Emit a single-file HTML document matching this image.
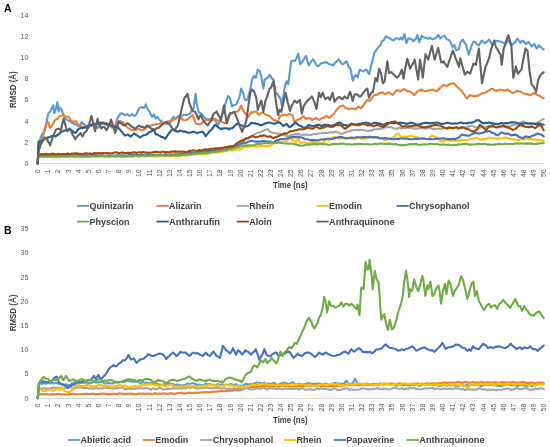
<!DOCTYPE html>
<html><head><meta charset="utf-8"><title>RMSD plots</title>
<style>html,body{margin:0;padding:0;background:#fff;}svg{display:block;}</style>
</head><body>
<svg width="550" height="447" viewBox="0 0 550 447">
<rect width="550" height="447" fill="#ffffff"/>
<g font-family="'Liberation Sans', Arial, sans-serif">
<line x1="37.7" y1="163.6" x2="544.2" y2="163.6" stroke="#D9D9D9" stroke-width="1"/>
<text x="28.4" y="165.9" text-anchor="end" font-size="7" fill="#595959">0</text>
<text x="28.4" y="144.7" text-anchor="end" font-size="7" fill="#595959">2</text>
<text x="28.4" y="123.6" text-anchor="end" font-size="7" fill="#595959">4</text>
<text x="28.4" y="102.4" text-anchor="end" font-size="7" fill="#595959">6</text>
<text x="28.4" y="81.3" text-anchor="end" font-size="7" fill="#595959">8</text>
<text x="28.4" y="60.1" text-anchor="end" font-size="7" fill="#595959">10</text>
<text x="28.4" y="38.9" text-anchor="end" font-size="7" fill="#595959">12</text>
<text x="28.4" y="17.8" text-anchor="end" font-size="7" fill="#595959">14</text>
<text transform="translate(40.2,169.3) rotate(-90)" text-anchor="end" font-size="7" fill="#595959">0</text>
<text transform="translate(50.3,169.3) rotate(-90)" text-anchor="end" font-size="7" fill="#595959">1</text>
<text transform="translate(60.4,169.3) rotate(-90)" text-anchor="end" font-size="7" fill="#595959">2</text>
<text transform="translate(70.6,169.3) rotate(-90)" text-anchor="end" font-size="7" fill="#595959">3</text>
<text transform="translate(80.7,169.3) rotate(-90)" text-anchor="end" font-size="7" fill="#595959">4</text>
<text transform="translate(90.8,169.3) rotate(-90)" text-anchor="end" font-size="7" fill="#595959">5</text>
<text transform="translate(100.9,169.3) rotate(-90)" text-anchor="end" font-size="7" fill="#595959">6</text>
<text transform="translate(111.0,169.3) rotate(-90)" text-anchor="end" font-size="7" fill="#595959">7</text>
<text transform="translate(121.2,169.3) rotate(-90)" text-anchor="end" font-size="7" fill="#595959">8</text>
<text transform="translate(131.3,169.3) rotate(-90)" text-anchor="end" font-size="7" fill="#595959">9</text>
<text transform="translate(141.4,169.3) rotate(-90)" text-anchor="end" font-size="7" fill="#595959">10</text>
<text transform="translate(151.5,169.3) rotate(-90)" text-anchor="end" font-size="7" fill="#595959">11</text>
<text transform="translate(161.6,169.3) rotate(-90)" text-anchor="end" font-size="7" fill="#595959">12</text>
<text transform="translate(171.8,169.3) rotate(-90)" text-anchor="end" font-size="7" fill="#595959">13</text>
<text transform="translate(181.9,169.3) rotate(-90)" text-anchor="end" font-size="7" fill="#595959">14</text>
<text transform="translate(192.0,169.3) rotate(-90)" text-anchor="end" font-size="7" fill="#595959">15</text>
<text transform="translate(202.1,169.3) rotate(-90)" text-anchor="end" font-size="7" fill="#595959">16</text>
<text transform="translate(212.2,169.3) rotate(-90)" text-anchor="end" font-size="7" fill="#595959">17</text>
<text transform="translate(222.4,169.3) rotate(-90)" text-anchor="end" font-size="7" fill="#595959">18</text>
<text transform="translate(232.5,169.3) rotate(-90)" text-anchor="end" font-size="7" fill="#595959">19</text>
<text transform="translate(242.6,169.3) rotate(-90)" text-anchor="end" font-size="7" fill="#595959">20</text>
<text transform="translate(252.7,169.3) rotate(-90)" text-anchor="end" font-size="7" fill="#595959">21</text>
<text transform="translate(262.8,169.3) rotate(-90)" text-anchor="end" font-size="7" fill="#595959">22</text>
<text transform="translate(273.0,169.3) rotate(-90)" text-anchor="end" font-size="7" fill="#595959">23</text>
<text transform="translate(283.1,169.3) rotate(-90)" text-anchor="end" font-size="7" fill="#595959">24</text>
<text transform="translate(293.2,169.3) rotate(-90)" text-anchor="end" font-size="7" fill="#595959">25</text>
<text transform="translate(303.3,169.3) rotate(-90)" text-anchor="end" font-size="7" fill="#595959">26</text>
<text transform="translate(313.4,169.3) rotate(-90)" text-anchor="end" font-size="7" fill="#595959">27</text>
<text transform="translate(323.6,169.3) rotate(-90)" text-anchor="end" font-size="7" fill="#595959">28</text>
<text transform="translate(333.7,169.3) rotate(-90)" text-anchor="end" font-size="7" fill="#595959">29</text>
<text transform="translate(343.8,169.3) rotate(-90)" text-anchor="end" font-size="7" fill="#595959">30</text>
<text transform="translate(353.9,169.3) rotate(-90)" text-anchor="end" font-size="7" fill="#595959">31</text>
<text transform="translate(364.0,169.3) rotate(-90)" text-anchor="end" font-size="7" fill="#595959">32</text>
<text transform="translate(374.2,169.3) rotate(-90)" text-anchor="end" font-size="7" fill="#595959">33</text>
<text transform="translate(384.3,169.3) rotate(-90)" text-anchor="end" font-size="7" fill="#595959">34</text>
<text transform="translate(394.4,169.3) rotate(-90)" text-anchor="end" font-size="7" fill="#595959">35</text>
<text transform="translate(404.5,169.3) rotate(-90)" text-anchor="end" font-size="7" fill="#595959">36</text>
<text transform="translate(414.6,169.3) rotate(-90)" text-anchor="end" font-size="7" fill="#595959">37</text>
<text transform="translate(424.8,169.3) rotate(-90)" text-anchor="end" font-size="7" fill="#595959">38</text>
<text transform="translate(434.9,169.3) rotate(-90)" text-anchor="end" font-size="7" fill="#595959">39</text>
<text transform="translate(445.0,169.3) rotate(-90)" text-anchor="end" font-size="7" fill="#595959">40</text>
<text transform="translate(455.1,169.3) rotate(-90)" text-anchor="end" font-size="7" fill="#595959">41</text>
<text transform="translate(465.2,169.3) rotate(-90)" text-anchor="end" font-size="7" fill="#595959">42</text>
<text transform="translate(475.4,169.3) rotate(-90)" text-anchor="end" font-size="7" fill="#595959">43</text>
<text transform="translate(485.5,169.3) rotate(-90)" text-anchor="end" font-size="7" fill="#595959">44</text>
<text transform="translate(495.6,169.3) rotate(-90)" text-anchor="end" font-size="7" fill="#595959">45</text>
<text transform="translate(505.7,169.3) rotate(-90)" text-anchor="end" font-size="7" fill="#595959">46</text>
<text transform="translate(515.8,169.3) rotate(-90)" text-anchor="end" font-size="7" fill="#595959">47</text>
<text transform="translate(526.0,169.3) rotate(-90)" text-anchor="end" font-size="7" fill="#595959">48</text>
<text transform="translate(536.1,169.3) rotate(-90)" text-anchor="end" font-size="7" fill="#595959">49</text>
<text transform="translate(546.2,169.3) rotate(-90)" text-anchor="end" font-size="7" fill="#595959">50</text>
<text x="273" y="187.6" font-size="8.6" font-weight="bold" fill="#404040" textLength="34.6" lengthAdjust="spacingAndGlyphs">Time (ns)</text>
<text transform="translate(15.8,107.9) rotate(-90)" font-size="8.6" font-weight="bold" fill="#404040" textLength="36.6" lengthAdjust="spacingAndGlyphs">RMSD (&#197;)</text>
<text x="4.0" y="11.8" font-size="10.6" font-weight="bold" fill="#000">A</text>
<line x1="37.7" y1="398.5" x2="544.2" y2="398.5" stroke="#D9D9D9" stroke-width="1"/>
<text x="28.4" y="400.6" text-anchor="end" font-size="7" fill="#595959">0</text>
<text x="28.4" y="376.4" text-anchor="end" font-size="7" fill="#595959">5</text>
<text x="28.4" y="352.2" text-anchor="end" font-size="7" fill="#595959">10</text>
<text x="28.4" y="328.0" text-anchor="end" font-size="7" fill="#595959">15</text>
<text x="28.4" y="303.8" text-anchor="end" font-size="7" fill="#595959">20</text>
<text x="28.4" y="279.6" text-anchor="end" font-size="7" fill="#595959">25</text>
<text x="28.4" y="255.4" text-anchor="end" font-size="7" fill="#595959">30</text>
<text x="28.4" y="231.2" text-anchor="end" font-size="7" fill="#595959">35</text>
<text transform="translate(40.2,403.6) rotate(-90)" text-anchor="end" font-size="7" fill="#595959">0</text>
<text transform="translate(50.3,403.6) rotate(-90)" text-anchor="end" font-size="7" fill="#595959">1</text>
<text transform="translate(60.4,403.6) rotate(-90)" text-anchor="end" font-size="7" fill="#595959">2</text>
<text transform="translate(70.6,403.6) rotate(-90)" text-anchor="end" font-size="7" fill="#595959">3</text>
<text transform="translate(80.7,403.6) rotate(-90)" text-anchor="end" font-size="7" fill="#595959">4</text>
<text transform="translate(90.8,403.6) rotate(-90)" text-anchor="end" font-size="7" fill="#595959">5</text>
<text transform="translate(100.9,403.6) rotate(-90)" text-anchor="end" font-size="7" fill="#595959">6</text>
<text transform="translate(111.0,403.6) rotate(-90)" text-anchor="end" font-size="7" fill="#595959">7</text>
<text transform="translate(121.2,403.6) rotate(-90)" text-anchor="end" font-size="7" fill="#595959">8</text>
<text transform="translate(131.3,403.6) rotate(-90)" text-anchor="end" font-size="7" fill="#595959">9</text>
<text transform="translate(141.4,403.6) rotate(-90)" text-anchor="end" font-size="7" fill="#595959">10</text>
<text transform="translate(151.5,403.6) rotate(-90)" text-anchor="end" font-size="7" fill="#595959">11</text>
<text transform="translate(161.6,403.6) rotate(-90)" text-anchor="end" font-size="7" fill="#595959">12</text>
<text transform="translate(171.8,403.6) rotate(-90)" text-anchor="end" font-size="7" fill="#595959">13</text>
<text transform="translate(181.9,403.6) rotate(-90)" text-anchor="end" font-size="7" fill="#595959">14</text>
<text transform="translate(192.0,403.6) rotate(-90)" text-anchor="end" font-size="7" fill="#595959">15</text>
<text transform="translate(202.1,403.6) rotate(-90)" text-anchor="end" font-size="7" fill="#595959">16</text>
<text transform="translate(212.2,403.6) rotate(-90)" text-anchor="end" font-size="7" fill="#595959">17</text>
<text transform="translate(222.4,403.6) rotate(-90)" text-anchor="end" font-size="7" fill="#595959">18</text>
<text transform="translate(232.5,403.6) rotate(-90)" text-anchor="end" font-size="7" fill="#595959">19</text>
<text transform="translate(242.6,403.6) rotate(-90)" text-anchor="end" font-size="7" fill="#595959">20</text>
<text transform="translate(252.7,403.6) rotate(-90)" text-anchor="end" font-size="7" fill="#595959">21</text>
<text transform="translate(262.8,403.6) rotate(-90)" text-anchor="end" font-size="7" fill="#595959">22</text>
<text transform="translate(273.0,403.6) rotate(-90)" text-anchor="end" font-size="7" fill="#595959">23</text>
<text transform="translate(283.1,403.6) rotate(-90)" text-anchor="end" font-size="7" fill="#595959">24</text>
<text transform="translate(293.2,403.6) rotate(-90)" text-anchor="end" font-size="7" fill="#595959">25</text>
<text transform="translate(303.3,403.6) rotate(-90)" text-anchor="end" font-size="7" fill="#595959">26</text>
<text transform="translate(313.4,403.6) rotate(-90)" text-anchor="end" font-size="7" fill="#595959">27</text>
<text transform="translate(323.6,403.6) rotate(-90)" text-anchor="end" font-size="7" fill="#595959">28</text>
<text transform="translate(333.7,403.6) rotate(-90)" text-anchor="end" font-size="7" fill="#595959">29</text>
<text transform="translate(343.8,403.6) rotate(-90)" text-anchor="end" font-size="7" fill="#595959">30</text>
<text transform="translate(353.9,403.6) rotate(-90)" text-anchor="end" font-size="7" fill="#595959">31</text>
<text transform="translate(364.0,403.6) rotate(-90)" text-anchor="end" font-size="7" fill="#595959">32</text>
<text transform="translate(374.2,403.6) rotate(-90)" text-anchor="end" font-size="7" fill="#595959">33</text>
<text transform="translate(384.3,403.6) rotate(-90)" text-anchor="end" font-size="7" fill="#595959">34</text>
<text transform="translate(394.4,403.6) rotate(-90)" text-anchor="end" font-size="7" fill="#595959">35</text>
<text transform="translate(404.5,403.6) rotate(-90)" text-anchor="end" font-size="7" fill="#595959">36</text>
<text transform="translate(414.6,403.6) rotate(-90)" text-anchor="end" font-size="7" fill="#595959">37</text>
<text transform="translate(424.8,403.6) rotate(-90)" text-anchor="end" font-size="7" fill="#595959">38</text>
<text transform="translate(434.9,403.6) rotate(-90)" text-anchor="end" font-size="7" fill="#595959">39</text>
<text transform="translate(445.0,403.6) rotate(-90)" text-anchor="end" font-size="7" fill="#595959">40</text>
<text transform="translate(455.1,403.6) rotate(-90)" text-anchor="end" font-size="7" fill="#595959">41</text>
<text transform="translate(465.2,403.6) rotate(-90)" text-anchor="end" font-size="7" fill="#595959">42</text>
<text transform="translate(475.4,403.6) rotate(-90)" text-anchor="end" font-size="7" fill="#595959">43</text>
<text transform="translate(485.5,403.6) rotate(-90)" text-anchor="end" font-size="7" fill="#595959">44</text>
<text transform="translate(495.6,403.6) rotate(-90)" text-anchor="end" font-size="7" fill="#595959">45</text>
<text transform="translate(505.7,403.6) rotate(-90)" text-anchor="end" font-size="7" fill="#595959">46</text>
<text transform="translate(515.8,403.6) rotate(-90)" text-anchor="end" font-size="7" fill="#595959">47</text>
<text transform="translate(526.0,403.6) rotate(-90)" text-anchor="end" font-size="7" fill="#595959">48</text>
<text transform="translate(536.1,403.6) rotate(-90)" text-anchor="end" font-size="7" fill="#595959">49</text>
<text transform="translate(546.2,403.6) rotate(-90)" text-anchor="end" font-size="7" fill="#595959">50</text>
<text x="273" y="422.7" font-size="8.6" font-weight="bold" fill="#404040" textLength="34.6" lengthAdjust="spacingAndGlyphs">Time (ns)</text>
<text transform="translate(15.8,331.3) rotate(-90)" font-size="8.6" font-weight="bold" fill="#404040" textLength="36.6" lengthAdjust="spacingAndGlyphs">RMSD (&#197;)</text>
<text x="4.0" y="233.6" font-size="10.6" font-weight="bold" fill="#000">B</text>
<polyline fill="none" stroke="#5B9BD5" stroke-width="2.10" stroke-linejoin="round" stroke-linecap="round" points="37.7,163.5 38.6,142.4 39.7,139.9 40.4,138.3 41.7,135.1 43.1,133.0 43.8,131.6 45.7,125.8 45.8,125.7 47.8,115.7 48.4,113.3 49.8,111.9 50.2,111.5 51.9,108.0 52.0,107.9 53.3,105.2 53.9,110.2 54.3,113.3 55.9,108.9 56.1,107.9 57.4,102.2 57.9,105.5 58.6,111.5 60.0,107.5 60.1,107.9 61.8,109.7 62.0,110.8 63.6,115.0 64.0,115.7 65.4,118.6 66.0,119.3 68.1,120.4 70.1,121.1 70.8,122.2 72.1,122.8 74.1,124.2 74.4,124.0 76.2,124.5 78.0,125.8 78.2,126.5 79.7,125.8 80.2,125.4 81.5,122.2 82.2,122.3 83.3,124.0 84.3,124.3 86.0,126.7 86.3,126.8 88.3,128.1 88.7,127.6 90.3,125.9 92.3,124.0 94.4,126.4 95.0,127.6 96.4,127.5 98.4,127.6 100.4,125.0 102.5,123.2 103.0,123.1 104.5,123.8 106.5,124.8 108.5,125.8 110.6,126.0 112.6,126.6 114.6,127.1 115.0,127.6 116.6,121.0 117.2,118.6 118.7,116.1 120.7,113.3 122.7,113.5 124.3,115.0 124.7,115.3 126.8,114.4 127.0,114.2 128.8,115.6 129.7,116.0 130.8,114.9 132.4,114.2 132.8,115.2 134.9,116.0 136.9,113.3 137.7,111.5 138.9,108.6 139.5,107.9 140.9,107.2 142.2,107.0 142.9,107.7 144.0,107.9 145.0,106.2 145.8,104.3 147.0,107.9 147.6,108.9 149.0,110.8 149.4,111.5 151.0,115.2 152.1,116.8 153.1,115.5 153.8,114.2 155.1,117.1 155.6,118.6 157.1,117.2 157.4,116.8 159.1,119.5 161.2,121.4 161.9,121.3 163.2,123.1 163.7,123.1 165.2,123.5 167.2,124.0 169.3,123.2 170.9,122.2 171.3,120.8 173.3,116.8 173.5,116.8 175.3,118.6 177.4,117.0 178.0,116.0 179.4,116.8 180.7,117.7 181.4,116.5 183.4,115.0 185.5,115.0 186.2,115.0 187.5,114.7 189.5,113.7 190.0,113.3 191.5,111.1 193.5,108.6 195.6,93.9 196.6,103.4 197.6,107.5 198.6,111.8 199.6,112.5 201.6,113.9 203.7,116.8 205.7,119.0 206.7,120.2 207.7,119.8 209.7,119.4 210.8,119.2 211.8,118.5 213.8,118.6 214.8,119.2 215.8,121.6 217.8,125.5 219.9,121.1 221.9,115.5 222.9,112.9 223.9,109.2 225.9,102.3 228.0,96.0 230.0,98.1 232.0,106.5 234.0,105.0 236.1,104.4 238.1,100.2 239.1,98.1 240.1,94.0 241.1,88.6 242.1,91.1 243.1,92.8 244.1,96.6 245.2,100.2 246.2,100.3 247.7,99.1 248.2,96.9 250.2,89.6 252.2,79.1 254.3,75.9 255.8,78.0 256.3,76.0 257.8,69.6 258.3,70.5 259.8,70.7 260.3,72.9 261.4,77.0 262.4,82.7 263.4,88.6 264.4,81.9 264.9,79.1 266.4,78.5 267.4,78.0 268.4,77.1 269.4,74.9 270.5,75.8 271.5,78.0 272.5,79.0 273.5,79.1 274.5,85.9 275.5,91.8 276.5,93.6 278.1,94.9 278.6,96.1 280.6,99.1 282.1,107.1 282.6,103.1 283.6,93.9 284.6,88.3 285.1,85.4 286.7,81.2 288.2,84.4 288.7,80.6 289.7,72.8 290.7,64.9 291.2,61.2 292.7,60.5 294.7,61.2 296.8,57.5 298.3,53.8 298.8,56.5 300.3,64.3 300.8,63.3 302.8,61.2 304.9,57.7 305.9,55.9 306.9,59.0 308.9,65.4 310.9,62.0 313.0,59.1 315.0,62.4 316.0,64.3 317.0,65.4 318.0,66.4 319.0,65.6 321.1,63.3 323.1,63.0 325.1,62.3 325.6,62.2 327.1,62.5 329.2,64.3 331.2,64.5 333.2,65.4 335.2,62.6 337.3,60.9 338.8,59.1 339.3,60.3 341.3,63.2 342.3,64.3 343.3,64.0 345.3,62.4 346.4,61.2 347.4,63.5 348.4,66.4 349.4,68.0 350.4,68.5 351.4,73.6 352.9,80.7 353.4,78.7 355.0,75.2 355.5,75.0 357.5,77.4 359.5,70.5 360.0,69.6 361.5,70.7 363.6,71.0 363.7,71.4 365.6,69.6 366.4,69.6 367.6,71.8 369.1,74.1 369.6,71.9 371.7,63.5 371.9,63.3 373.7,55.5 374.6,52.3 375.7,50.8 377.3,48.6 377.7,47.7 379.8,45.9 380.1,45.9 381.8,41.9 381.9,41.3 383.7,40.4 383.8,40.1 385.5,36.7 385.8,36.5 387.9,37.5 388.3,37.6 389.9,38.1 390.9,39.4 391.9,39.6 393.6,40.4 393.9,40.1 395.9,38.3 396.4,38.5 398.0,38.5 399.1,39.4 400.0,39.1 400.9,37.6 402.0,38.7 402.7,39.4 404.0,35.1 404.5,33.9 406.1,41.7 406.4,43.1 408.1,39.2 408.2,38.5 410.1,38.5 410.9,39.4 412.1,39.6 413.7,41.3 414.2,40.3 415.5,39.4 416.2,38.0 417.3,34.9 418.2,38.1 419.1,42.2 420.2,39.8 421.9,35.7 422.3,36.3 424.3,37.5 424.6,37.6 426.3,37.8 427.3,38.5 428.3,38.8 430.1,37.6 430.4,38.3 432.4,39.2 432.8,39.4 434.4,38.5 435.5,38.5 436.4,37.5 438.2,34.9 438.5,35.1 440.1,38.5 440.5,38.3 442.5,36.6 442.8,36.7 444.5,35.7 446.5,38.7 447.3,39.4 448.6,39.7 450.0,41.3 450.6,42.3 452.6,47.3 452.7,46.8 454.5,44.9 454.6,45.8 456.4,50.5 456.7,50.0 458.7,49.4 459.1,48.6 460.3,42.9 460.7,42.1 462.7,39.5 464.8,43.1 465.8,44.0 466.8,47.9 468.8,54.8 470.8,48.0 471.3,46.4 472.9,42.6 473.4,41.9 474.9,41.8 475.9,42.9 476.9,44.3 478.9,45.3 481.0,41.6 482.0,40.7 483.0,41.8 485.0,43.2 485.5,42.9 487.0,41.6 489.1,39.5 491.1,42.9 492.1,45.3 493.1,44.3 495.1,40.7 497.1,41.4 498.2,40.7 499.2,41.3 501.2,41.7 501.7,41.9 503.2,42.6 505.2,44.0 507.3,41.6 508.3,40.7 509.3,41.8 511.3,45.3 513.3,43.8 515.4,41.9 517.4,38.5 519.4,41.3 520.4,42.9 521.4,41.4 522.4,40.7 523.5,41.1 525.5,43.7 526.0,44.0 527.5,42.4 528.5,41.9 529.5,43.4 531.6,46.4 533.6,44.5 534.6,44.0 535.6,46.8 536.6,48.5 537.6,47.5 538.6,45.3 539.7,45.7 540.7,47.4 541.7,47.8 543.5,49.6 543.7,49.3"/>
<polyline fill="none" stroke="#ED7D31" stroke-width="2.10" stroke-linejoin="round" stroke-linecap="round" points="37.7,163.5 38.2,155.1 39.5,143.7 39.7,143.5 41.2,141.9 41.7,140.7 43.8,133.8 43.9,132.9 45.8,126.1 46.6,124.0 47.8,122.3 48.3,122.2 49.8,127.1 50.1,127.6 51.9,126.2 52.0,125.8 53.9,122.3 54.7,120.5 55.9,119.4 57.3,118.7 57.9,118.2 60.0,116.1 60.1,115.9 62.0,115.4 62.7,115.1 64.0,115.5 65.4,116.9 66.0,116.8 68.1,116.7 69.0,116.9 70.1,119.3 70.8,120.5 72.1,121.5 73.5,121.3 74.1,121.8 76.2,121.3 78.0,124.9 78.2,125.0 80.2,125.6 80.6,125.8 82.2,126.7 83.2,127.6 84.3,126.8 86.3,126.3 86.9,126.7 88.3,125.2 88.7,124.9 90.3,125.1 92.3,125.8 94.4,124.3 95.0,124.0 96.4,124.1 98.4,123.1 100.4,122.7 102.1,122.2 102.5,122.4 104.5,122.7 104.8,123.1 106.5,123.0 108.3,124.0 108.5,124.0 110.6,125.8 112.0,127.6 112.6,127.4 114.6,127.3 115.0,126.6 116.6,122.4 118.7,121.9 119.7,121.3 120.7,121.2 122.7,122.7 123.2,122.4 124.7,124.6 126.8,126.8 128.8,128.5 129.8,129.0 130.8,129.8 132.8,130.1 134.9,129.9 136.9,129.5 137.4,129.0 138.9,129.2 140.9,130.4 141.9,130.1 142.9,130.3 145.0,129.0 147.0,127.1 148.0,126.8 149.0,126.6 151.0,125.7 153.1,124.5 155.1,124.5 157.1,124.1 159.1,123.8 161.2,123.4 163.2,122.8 165.2,122.7 167.2,121.6 168.2,121.3 169.3,121.3 171.3,120.1 173.3,120.0 174.3,119.2 175.3,119.2 177.4,117.9 179.4,117.1 181.4,118.7 183.4,120.2 185.5,120.2 187.5,119.2 189.5,117.8 191.5,115.8 192.5,115.0 193.5,117.4 195.6,123.4 197.6,123.9 198.6,124.5 199.6,124.4 201.6,123.4 203.7,121.3 205.7,120.5 206.7,119.2 207.7,119.1 209.7,120.3 211.8,120.2 213.8,119.5 215.8,119.2 217.8,120.6 219.9,121.1 220.9,121.3 221.9,121.8 223.9,122.9 224.9,123.4 225.9,121.5 228.0,117.2 229.0,115.0 230.0,114.2 232.0,113.0 234.0,112.3 236.1,111.8 238.1,111.3 240.1,107.9 241.1,105.5 242.1,107.9 244.1,112.3 246.2,114.5 247.7,117.1 248.2,116.8 250.2,114.0 251.2,112.3 252.2,112.7 254.3,111.6 256.3,111.8 258.3,114.2 259.3,115.0 260.3,113.6 262.4,112.3 264.4,113.8 266.4,115.0 268.4,115.4 269.4,116.0 270.5,116.8 272.5,119.2 274.5,120.5 275.0,120.2 276.5,121.0 277.5,122.4 278.6,119.7 280.0,115.9 280.6,116.2 282.6,114.9 283.6,115.0 284.6,114.6 286.7,115.4 287.3,115.0 288.7,114.2 290.0,113.6 290.7,114.4 292.7,115.5 294.5,122.8 294.7,122.0 296.8,120.4 297.3,120.0 298.8,119.1 300.0,119.1 300.8,118.7 302.8,116.5 303.7,116.3 304.9,118.1 306.4,119.1 306.9,118.3 308.9,118.5 309.1,118.1 310.9,118.8 311.9,120.0 313.0,119.2 315.0,118.8 315.5,118.1 317.0,118.5 319.0,120.0 321.1,118.6 322.7,118.1 323.1,118.2 325.1,116.8 326.3,116.3 327.1,116.0 329.2,117.7 330.0,117.3 331.2,116.0 333.2,114.3 333.6,114.5 335.2,111.9 337.3,109.1 339.3,107.2 340.0,106.3 341.3,106.2 342.7,105.5 343.3,105.6 345.3,107.9 345.4,108.2 347.4,108.2 348.2,109.1 349.4,108.7 351.4,108.6 351.8,108.2 353.4,108.9 355.5,109.1 357.5,107.5 358.2,106.3 359.5,107.5 360.9,108.2 361.5,107.9 363.6,105.1 364.6,103.6 365.6,102.2 367.3,100.0 367.6,99.8 369.6,101.0 370.0,100.9 371.7,98.4 372.7,97.2 373.7,95.6 374.6,95.0 375.7,94.7 377.7,94.7 378.2,94.1 379.8,92.9 381.8,92.4 381.9,92.3 383.8,93.1 385.5,94.1 385.8,93.9 387.9,92.5 389.1,92.3 389.9,93.4 391.9,94.1 392.7,95.0 393.9,93.6 395.9,90.9 396.4,90.5 398.0,90.3 400.0,91.3 402.0,90.4 403.6,89.5 404.0,89.3 406.1,90.2 407.3,91.3 408.1,91.0 410.1,91.7 410.9,92.3 412.1,92.7 414.2,94.9 414.6,95.0 416.2,93.0 418.2,90.5 420.2,90.5 421.9,89.5 422.3,90.3 424.3,91.3 425.5,91.3 426.3,90.8 428.3,90.6 429.1,90.5 430.4,89.9 432.4,89.8 432.8,89.5 434.4,90.5 436.4,91.3 438.5,89.7 440.1,87.8 440.5,87.7 442.5,85.6 443.6,85.0 444.5,85.2 446.5,85.8 447.3,86.0 448.6,84.7 450.6,83.7 450.9,84.1 452.6,83.4 453.6,83.2 454.6,83.8 456.4,86.0 456.7,86.5 458.7,88.0 459.1,88.7 460.3,89.6 460.7,89.7 462.7,92.5 463.8,94.2 464.8,95.3 466.8,98.5 468.8,96.2 470.1,95.2 470.8,95.5 472.9,95.9 474.5,96.4 474.9,96.1 476.9,95.9 478.9,95.2 481.0,93.8 483.0,93.1 485.0,92.7 487.0,91.8 487.6,90.9 489.1,90.5 491.1,89.1 492.1,88.7 493.1,89.3 495.1,90.5 496.1,90.9 497.1,90.1 499.2,90.0 500.6,89.6 501.2,89.8 503.2,90.0 505.2,90.9 507.3,89.6 508.3,89.6 509.3,90.9 511.3,92.1 512.3,93.1 513.3,92.7 515.4,92.2 516.9,90.9 517.4,91.2 519.4,91.2 521.4,92.0 523.5,93.5 525.5,93.8 526.0,94.2 527.5,94.0 529.5,95.2 530.5,95.2 531.6,94.3 533.6,93.6 535.1,93.1 535.6,93.9 537.6,95.1 538.1,95.2 539.7,95.5 540.2,96.4 541.7,97.3 543.5,98.5 543.7,98.4"/>
<polyline fill="none" stroke="#A5A5A5" stroke-width="2.10" stroke-linejoin="round" stroke-linecap="round" points="37.7,163.5 38.2,156.1 39.7,156.1 41.7,155.8 43.8,156.1 45.8,155.9 47.8,156.1 49.8,156.1 51.9,155.5 53.9,155.5 55.9,156.3 57.9,155.9 60.0,155.7 62.0,155.6 64.0,156.4 66.0,155.8 68.1,156.2 70.1,155.8 72.1,156.0 74.1,155.5 76.2,156.0 78.2,156.2 80.2,155.8 82.2,156.1 84.3,156.0 86.3,155.4 88.3,156.1 90.3,155.9 92.3,155.6 94.4,155.3 96.4,156.1 98.4,155.7 100.4,156.0 102.5,156.1 104.5,156.0 106.5,156.2 108.5,155.6 110.6,156.0 112.6,155.7 114.6,156.1 116.6,156.1 118.7,155.7 120.7,155.3 122.7,155.3 124.7,155.3 126.8,156.0 128.8,155.4 130.8,155.6 132.8,155.2 134.9,155.4 136.9,155.2 138.9,155.2 140.9,155.4 142.9,155.3 145.0,155.6 147.0,155.3 149.0,155.5 151.0,155.4 153.1,155.5 155.1,155.2 157.1,154.6 159.1,155.3 161.2,155.3 163.2,155.2 165.2,154.9 167.2,155.0 169.3,154.4 171.3,155.0 173.3,154.7 175.3,154.4 177.4,154.1 179.4,154.5 181.4,154.7 183.4,154.6 185.5,153.5 187.5,154.0 189.5,153.4 190.0,153.5 191.5,153.0 193.5,152.9 195.6,153.2 197.6,153.1 199.6,152.0 200.1,152.4 201.6,152.4 203.7,151.7 205.7,152.2 207.7,151.7 209.7,151.7 211.8,151.8 213.8,151.7 215.8,151.0 217.8,151.3 219.9,150.3 221.9,149.9 223.9,150.2 225.9,149.4 226.3,149.8 228.0,149.0 230.0,148.6 232.0,148.3 234.0,147.2 236.1,146.5 237.3,146.6 238.1,146.2 240.1,143.8 242.1,142.6 244.1,140.7 244.6,140.0 246.2,139.0 248.2,138.1 250.0,137.2 250.2,137.1 252.2,135.8 253.7,134.6 254.3,134.4 256.3,133.3 257.3,132.7 258.3,132.6 260.3,132.4 260.9,131.8 262.4,131.1 264.4,130.0 264.6,130.0 266.4,129.6 267.4,129.1 268.4,129.9 270.0,131.8 270.5,131.8 272.5,132.9 273.6,132.7 274.5,133.0 276.5,133.5 277.2,133.6 278.6,133.5 280.6,134.4 280.9,134.6 282.6,135.1 284.5,135.4 284.6,135.0 286.7,136.1 288.2,136.4 288.7,136.4 290.7,135.1 292.7,135.1 294.7,134.2 295.8,134.0 296.8,134.2 298.8,134.1 300.8,134.7 302.8,134.9 304.9,134.4 305.9,135.0 306.9,134.5 308.9,134.9 310.9,135.0 313.0,134.0 315.0,134.0 316.0,134.0 317.0,133.9 319.0,133.5 321.1,133.3 323.1,133.0 325.1,132.9 326.1,132.9 327.1,132.9 329.2,132.4 331.2,132.2 333.2,132.4 335.2,131.8 337.3,132.1 339.3,133.3 341.3,134.0 343.3,133.5 345.3,132.4 347.4,131.6 349.4,131.5 350.4,130.8 351.4,130.4 353.4,130.0 355.5,130.0 357.5,129.7 359.5,130.1 361.5,129.7 363.6,130.1 365.6,130.3 367.6,131.0 368.6,130.8 369.6,130.5 371.7,130.6 373.7,129.5 375.7,129.3 377.7,129.2 379.8,128.7 381.8,128.7 383.8,127.9 385.8,127.4 387.9,126.9 388.9,127.1 389.9,127.3 391.9,127.4 393.9,128.4 395.9,128.8 397.0,128.7 398.0,128.3 400.0,128.1 402.0,128.5 404.0,128.1 406.1,128.0 407.1,127.6 408.1,127.6 410.1,127.6 412.1,127.9 414.2,128.7 416.2,128.4 417.2,128.7 418.2,128.5 420.2,128.4 422.3,128.3 424.3,128.2 426.3,128.6 427.3,128.2 428.3,127.9 430.4,127.8 432.4,128.9 434.4,128.9 436.4,129.1 437.4,128.7 438.5,128.5 440.5,128.8 442.5,128.6 444.5,127.7 446.5,128.0 447.6,127.6 448.6,128.1 450.6,128.1 452.6,128.2 454.6,128.2 456.7,128.4 457.7,128.7 458.7,128.3 460.7,127.9 462.7,128.1 464.8,127.5 465.8,127.6 466.8,127.6 468.8,126.1 470.8,126.3 471.8,125.5 472.9,126.1 474.9,127.0 476.9,127.7 477.9,127.6 478.9,127.9 481.0,127.4 483.0,126.6 485.0,127.1 487.0,126.4 488.0,126.6 489.1,126.4 491.1,126.9 493.1,126.9 495.1,126.9 497.1,127.5 498.2,127.1 499.2,127.2 501.2,126.8 503.2,126.6 505.2,127.1 507.3,126.6 508.3,126.6 509.3,126.6 511.3,125.6 513.3,125.0 515.4,124.8 516.4,124.5 517.4,124.3 519.4,122.8 521.4,122.5 523.5,121.3 525.5,122.8 527.5,123.7 529.5,124.5 531.6,124.4 533.6,123.3 535.6,123.4 537.6,122.5 539.7,121.7 541.7,119.8 543.7,119.2"/>
<polyline fill="none" stroke="#FFC000" stroke-width="2.10" stroke-linejoin="round" stroke-linecap="round" points="37.7,163.5 38.2,157.0 39.7,157.0 41.7,156.7 43.8,156.6 45.8,156.8 47.8,156.6 49.8,156.5 51.9,156.8 53.9,157.3 55.9,157.1 57.9,156.9 60.0,157.1 62.0,156.6 64.0,156.9 66.0,156.6 68.1,156.5 70.1,156.5 72.1,156.5 74.1,157.2 76.2,157.1 78.2,157.1 80.2,157.0 82.2,156.5 84.3,156.6 86.3,156.9 88.3,157.0 90.3,157.1 92.3,157.1 94.4,156.4 96.4,156.8 98.4,156.9 100.4,156.7 102.5,156.4 104.5,156.7 106.5,156.3 108.5,157.1 110.6,157.0 112.6,156.7 114.6,156.5 116.6,157.0 118.7,156.6 120.7,156.7 122.7,156.9 124.7,156.9 126.8,156.6 128.8,156.4 130.8,156.6 132.8,156.4 134.9,156.1 136.9,156.2 138.9,156.7 140.9,156.0 142.9,155.9 145.0,156.4 147.0,156.1 149.0,156.3 151.0,156.2 153.1,156.1 155.1,156.6 157.1,155.9 159.1,156.1 161.2,155.9 163.2,156.2 165.2,155.9 167.2,155.9 169.3,156.2 171.3,155.8 173.3,156.0 175.3,156.3 177.4,155.6 179.4,155.9 181.4,155.3 183.4,155.3 185.5,155.7 187.5,155.4 189.5,154.9 190.0,155.1 191.5,154.7 193.5,154.4 195.6,154.4 197.6,153.9 199.6,154.2 200.1,154.0 201.6,154.2 203.7,154.0 205.7,153.6 207.7,153.6 209.7,152.9 211.8,152.3 213.8,152.3 215.8,152.6 217.8,152.2 219.9,151.6 221.9,151.9 223.9,151.3 225.9,151.3 226.3,150.9 228.0,150.5 230.0,150.2 232.0,150.2 234.0,149.6 236.1,149.6 238.1,149.8 240.1,149.0 240.9,149.0 242.1,148.0 244.1,147.0 244.6,147.3 246.2,146.8 248.2,147.1 250.2,146.5 251.8,146.4 252.2,146.2 254.3,146.0 256.3,146.8 258.3,146.3 260.3,146.1 262.4,146.0 264.4,146.0 266.4,146.4 268.4,145.6 270.0,145.5 270.5,145.4 272.5,143.9 273.6,143.7 274.5,142.6 276.5,141.4 277.2,140.9 278.6,141.4 280.0,142.3 280.6,142.6 282.6,141.5 284.6,141.5 285.6,141.3 286.7,140.8 288.7,138.8 289.1,138.6 290.7,137.4 290.9,136.8 292.7,140.5 294.7,141.5 296.4,142.3 296.8,140.8 298.2,136.8 298.8,138.9 300.0,143.2 300.8,142.6 302.8,142.4 303.7,142.3 304.9,142.4 306.9,143.5 307.3,143.2 308.9,143.1 310.8,142.3 310.9,142.3 313.0,141.9 315.0,142.1 316.3,142.3 317.0,142.2 319.0,142.5 321.1,142.9 321.8,143.2 323.1,142.6 325.1,140.4 325.4,140.5 327.1,139.6 329.1,139.6 329.2,139.9 331.2,138.6 332.7,137.8 333.2,137.9 334.5,136.8 335.2,137.1 337.3,138.5 338.2,138.6 339.3,138.5 341.3,138.1 341.8,137.8 343.3,138.3 345.3,138.6 345.4,138.6 347.4,137.8 349.1,137.8 349.4,137.6 351.4,138.6 352.7,138.6 353.4,138.9 355.5,138.6 357.5,137.7 358.2,137.8 359.5,138.1 361.5,138.6 363.6,138.6 365.6,138.2 367.6,137.9 369.6,137.1 370.9,136.8 371.7,137.1 373.7,137.3 375.7,137.2 377.7,138.1 378.1,137.8 379.8,138.7 381.8,138.5 383.8,140.0 384.8,139.9 385.8,140.0 387.9,139.3 389.9,138.3 391.9,138.2 393.9,137.0 395.9,134.7 398.0,133.4 400.0,135.7 402.0,137.3 402.5,137.7 404.0,136.9 406.1,136.5 408.1,136.4 410.1,135.9 411.1,135.5 412.1,136.1 414.2,137.0 416.2,137.1 418.2,137.6 420.2,138.8 422.3,139.2 424.3,138.4 426.3,139.2 428.3,138.8 430.4,136.7 432.1,135.5 432.4,135.9 434.4,136.7 436.4,137.6 437.4,137.7 438.5,138.8 440.5,141.2 441.5,142.0 442.5,141.3 444.5,140.8 446.1,139.9 446.5,139.8 448.6,140.5 450.6,140.6 452.6,140.6 454.6,140.8 456.7,141.0 458.7,140.3 460.7,140.0 462.7,140.2 464.8,139.8 466.8,139.9 468.8,139.4 470.8,138.6 471.8,138.8 472.9,138.5 474.9,138.4 476.9,137.7 478.9,138.8 481.0,139.9 483.0,138.9 485.0,139.2 487.0,138.7 489.1,137.5 490.1,137.7 491.1,137.8 493.1,138.0 495.1,138.6 497.1,138.5 498.2,138.8 499.2,138.4 501.2,138.2 503.2,138.3 504.2,137.7 505.2,137.5 507.3,137.9 509.3,138.7 511.3,139.3 513.3,139.3 515.4,139.6 516.4,139.9 517.4,140.1 519.4,139.9 521.4,139.1 523.5,139.7 525.5,138.9 527.5,138.9 529.5,139.2 530.5,138.8 531.6,138.9 533.6,139.6 535.6,139.4 537.6,140.3 539.7,140.1 541.7,140.4 543.7,141.0"/>
<polyline fill="none" stroke="#4472C4" stroke-width="2.10" stroke-linejoin="round" stroke-linecap="round" points="37.7,163.5 38.2,155.9 39.7,155.9 41.7,156.0 43.8,156.1 45.8,156.1 47.8,156.2 49.8,156.0 51.9,156.1 53.9,155.3 55.9,155.7 57.9,155.7 60.0,156.1 62.0,155.8 64.0,156.0 66.0,155.3 68.1,155.6 70.1,155.4 72.1,155.7 74.1,155.7 76.2,155.2 78.2,155.4 80.2,155.4 82.2,156.0 84.3,155.8 86.3,155.3 88.3,155.9 90.3,155.3 92.3,155.7 94.4,155.2 96.4,155.1 98.4,155.9 100.4,155.3 102.5,155.3 104.5,156.0 106.5,155.9 108.5,155.3 110.6,155.9 112.6,155.5 114.6,155.7 116.6,155.2 118.7,155.5 120.7,155.8 122.7,155.6 124.7,155.8 126.8,155.7 128.8,155.1 130.8,155.2 132.8,155.0 134.9,154.9 136.9,154.8 138.9,155.0 140.9,155.2 142.9,154.7 145.0,155.2 147.0,154.9 149.0,154.8 151.0,155.3 153.1,154.9 155.1,154.7 157.1,154.9 159.1,155.0 161.2,154.4 163.2,155.2 165.2,154.3 167.2,154.9 169.3,155.0 171.3,154.2 173.3,154.9 175.3,154.5 177.4,154.6 179.4,154.5 181.4,153.8 183.4,153.5 185.5,153.3 187.5,153.7 189.5,152.8 190.0,152.9 191.5,153.1 193.5,153.0 195.6,152.9 197.6,152.2 199.6,152.0 200.1,152.1 201.6,151.9 203.7,151.9 205.7,151.0 207.7,151.3 209.7,150.8 211.8,150.9 213.8,150.7 215.8,149.8 217.8,150.4 219.9,149.4 221.9,149.4 223.9,149.4 225.9,149.5 226.3,149.0 228.0,148.4 230.0,148.2 232.0,147.2 234.0,146.4 236.1,145.7 237.3,145.5 238.1,144.9 240.1,144.0 242.1,143.3 244.1,143.0 244.6,142.7 246.2,142.7 248.2,141.8 250.2,141.0 251.8,140.9 252.2,140.6 254.3,141.6 256.3,141.5 258.3,141.6 259.1,141.8 260.3,141.2 262.4,141.1 262.8,140.9 264.4,141.4 266.4,141.3 268.4,141.5 270.0,141.8 270.5,141.5 272.5,142.8 273.6,142.7 274.5,141.6 276.5,140.5 277.2,140.0 278.6,140.0 280.6,138.9 280.9,139.1 282.6,139.1 284.6,139.0 286.7,138.5 288.2,138.2 288.7,138.3 290.7,137.2 292.7,137.1 294.7,137.1 296.8,136.8 298.8,137.4 299.8,137.1 300.8,137.2 302.8,138.0 304.9,139.1 306.9,139.2 308.9,139.8 310.9,140.1 313.0,139.9 315.0,140.2 316.0,140.3 317.0,140.4 319.0,139.9 321.1,139.5 323.1,139.4 325.1,139.2 327.1,138.7 329.2,138.7 331.2,139.0 333.2,138.7 334.2,138.2 335.2,138.0 337.3,137.4 338.3,137.1 339.3,137.1 341.3,137.1 343.3,137.5 345.3,138.2 347.4,138.2 349.4,138.3 351.4,137.6 353.4,137.7 355.5,137.5 356.5,137.1 357.5,137.3 359.5,137.3 361.5,137.4 363.6,137.0 365.6,137.1 367.6,137.3 369.6,136.9 371.7,137.1 373.7,137.4 374.7,137.1 375.7,137.4 377.7,137.3 379.8,138.2 381.8,138.2 382.8,138.2 383.8,138.4 385.8,138.1 387.9,138.8 389.9,138.8 391.9,139.2 393.9,139.2 395.9,138.8 398.0,138.9 400.0,138.5 402.0,138.2 404.0,138.7 406.1,138.5 408.1,138.9 410.1,139.2 412.1,139.2 414.2,139.3 416.2,138.7 418.2,138.9 420.2,138.7 422.3,138.2 424.3,138.6 426.3,139.0 428.3,139.2 430.4,139.0 432.4,139.2 434.4,139.1 436.4,138.5 438.5,138.9 440.5,138.8 442.5,138.2 444.5,138.4 446.5,138.9 448.6,139.1 450.0,139.1 450.6,139.3 452.6,138.8 454.5,139.1 454.6,139.3 456.7,138.3 458.7,137.5 459.1,137.2 460.7,135.5 461.8,134.5 462.7,134.8 464.8,135.3 466.4,135.4 466.8,135.6 468.8,135.6 470.0,135.4 470.8,134.6 472.9,133.7 473.7,133.6 474.9,133.0 475.5,132.7 476.9,133.2 478.9,133.4 479.0,133.6 481.0,133.3 482.7,132.7 483.0,132.7 485.0,131.7 486.3,131.8 487.0,131.6 489.1,130.9 491.1,132.0 491.8,132.7 493.1,132.9 495.1,134.0 495.4,134.5 497.1,134.9 498.2,135.4 499.2,134.1 500.9,132.7 501.2,132.5 503.2,132.9 504.5,133.6 505.2,133.6 507.3,133.5 508.2,133.6 509.3,134.3 511.3,135.3 511.8,135.4 513.3,134.8 515.4,134.9 515.5,134.5 517.4,135.5 519.1,137.2 519.4,137.2 521.4,137.6 522.8,138.2 523.5,137.8 525.5,136.5 526.4,136.4 527.5,136.9 529.5,137.0 530.0,137.2 531.6,136.0 533.6,135.4 535.6,134.5 537.2,133.6 537.6,133.4 539.7,134.2 540.9,134.5 541.7,134.9 543.6,136.4 543.7,136.5"/>
<polyline fill="none" stroke="#70AD47" stroke-width="2.10" stroke-linejoin="round" stroke-linecap="round" points="37.7,163.5 38.2,156.3 39.7,156.3 41.7,156.5 43.8,156.6 45.8,156.3 47.8,156.1 49.8,155.9 51.9,156.4 53.9,156.2 55.9,156.4 57.9,156.2 60.0,156.1 62.0,156.4 64.0,156.0 66.0,156.4 68.1,156.4 70.1,156.1 72.1,156.2 74.1,156.3 76.2,155.9 78.2,156.2 80.2,156.4 82.2,155.9 84.3,156.4 86.3,156.3 88.3,156.4 90.3,156.0 92.3,155.8 94.4,156.3 96.4,156.3 98.4,156.0 100.4,155.7 102.5,155.8 104.5,156.2 106.5,155.9 108.5,156.4 110.6,156.1 112.6,155.8 114.6,156.1 116.6,155.9 118.7,156.0 120.7,156.3 122.7,156.3 124.7,155.9 126.8,156.0 128.8,156.0 130.8,156.1 132.8,156.2 134.9,155.4 136.9,155.7 138.9,155.8 140.9,155.6 142.9,155.8 145.0,155.4 147.0,156.0 149.0,155.7 151.0,155.3 153.1,155.7 155.1,155.4 157.1,155.3 159.1,155.5 161.2,155.2 163.2,155.2 165.2,155.7 167.2,155.6 169.3,155.0 171.3,155.6 173.3,155.0 175.3,155.2 177.4,155.6 179.4,155.3 181.4,155.2 183.4,154.7 185.5,154.6 187.5,154.4 189.5,154.0 190.0,154.2 191.5,154.5 193.5,153.5 195.6,153.6 197.6,153.6 199.6,153.1 200.1,153.2 201.6,153.4 203.7,152.6 205.7,153.1 207.7,152.8 209.7,152.3 211.8,152.2 213.8,152.1 215.8,151.4 217.8,151.4 219.9,151.1 221.9,150.6 223.9,150.3 225.9,150.2 226.3,150.0 228.0,149.5 230.0,148.8 232.0,148.8 234.0,147.9 236.1,147.5 237.3,147.3 238.1,147.3 240.1,146.3 242.1,145.7 244.1,145.3 244.6,145.5 246.2,145.5 248.2,145.3 250.2,145.3 251.8,145.5 252.2,145.3 254.3,145.2 256.3,144.2 258.3,143.8 259.1,143.7 260.3,143.9 262.4,143.5 264.4,143.1 266.4,143.2 268.4,143.0 270.5,142.6 272.5,142.7 273.6,142.7 274.5,142.6 276.5,143.0 278.6,142.6 280.6,142.8 280.9,142.7 282.6,143.3 284.6,143.5 286.7,143.4 288.2,143.7 288.7,143.7 290.7,143.5 292.7,143.7 294.7,144.2 296.8,144.7 298.8,145.4 300.8,145.6 302.8,145.7 304.9,145.0 306.9,144.5 308.9,144.7 310.9,144.5 313.0,144.1 315.0,143.9 317.0,144.4 319.0,143.8 321.1,144.0 323.1,144.3 325.1,144.1 327.1,144.6 329.2,144.7 331.2,144.5 333.2,143.9 335.2,143.8 337.3,144.2 339.3,143.8 341.3,143.5 343.3,143.6 345.3,144.1 347.4,144.3 349.4,144.3 351.4,144.5 353.4,144.4 355.5,144.0 357.5,144.1 359.5,143.8 361.5,144.0 363.6,144.2 365.6,144.3 367.6,144.0 369.6,144.5 371.7,144.5 373.7,144.0 375.7,143.8 377.7,144.0 379.8,143.6 381.8,143.5 383.8,143.9 385.8,143.8 387.9,143.9 389.9,143.6 391.9,144.0 393.9,144.5 395.9,144.1 398.0,144.7 400.0,145.2 402.0,145.0 404.0,145.2 406.1,144.9 408.1,144.4 410.1,144.3 412.1,144.0 414.2,144.3 416.2,143.9 418.2,144.7 420.2,144.7 422.3,144.5 424.3,144.4 426.3,144.5 428.3,144.2 430.4,143.9 432.4,144.0 434.4,144.3 436.4,143.8 438.5,144.5 440.5,144.8 442.5,144.5 444.5,144.4 446.5,145.1 448.6,144.5 450.6,145.2 452.6,145.0 454.6,144.7 456.7,145.0 458.7,144.3 460.7,144.5 462.7,144.0 464.8,143.7 466.8,143.9 468.8,144.6 470.8,144.5 472.9,144.5 474.9,144.4 476.9,143.9 478.9,143.9 481.0,144.0 483.0,144.0 485.0,143.7 487.0,144.6 489.1,144.5 491.1,144.8 493.1,144.5 495.1,144.6 497.1,144.2 499.2,143.9 501.2,144.3 503.2,144.0 505.2,143.7 507.3,144.0 509.3,144.0 511.3,144.0 513.3,144.0 515.4,143.5 517.4,143.4 519.4,143.7 521.4,143.2 523.5,143.5 525.5,143.6 527.5,143.4 529.5,143.6 531.6,143.6 533.6,144.0 535.6,143.9 537.6,143.6 539.7,143.3 541.7,143.2 543.7,143.2"/>
<polyline fill="none" stroke="#255E91" stroke-width="2.10" stroke-linejoin="round" stroke-linecap="round" points="37.7,163.5 38.6,141.9 39.7,141.6 41.7,140.9 42.2,141.0 43.8,139.4 45.7,138.3 45.8,138.4 47.8,137.3 49.3,137.4 49.8,137.2 51.9,136.0 52.9,135.6 53.9,135.4 55.6,136.5 55.9,136.3 57.9,134.4 58.2,134.7 60.0,132.9 60.1,132.9 62.0,131.5 63.6,131.2 64.0,130.6 66.0,130.3 66.3,130.3 68.1,130.1 69.0,129.4 70.1,129.5 72.1,130.6 72.6,131.2 74.1,132.3 75.2,132.9 76.2,132.3 78.0,129.4 78.2,129.4 80.2,128.2 81.5,127.6 82.2,128.2 84.3,127.1 85.2,127.6 86.3,127.5 88.3,125.8 88.7,125.8 90.3,125.0 92.3,124.9 94.4,123.9 95.9,124.0 96.4,123.7 98.4,123.7 99.4,123.1 100.4,122.7 102.5,123.2 103.0,123.1 104.5,123.7 106.5,124.0 108.5,124.4 110.2,124.9 110.6,125.3 112.6,126.2 113.7,127.6 114.6,126.9 116.6,126.6 117.6,126.8 118.7,128.3 120.7,130.5 121.2,131.2 122.7,132.8 124.7,135.5 126.8,134.9 127.8,134.5 128.8,135.1 130.8,136.6 132.8,134.5 134.3,133.4 134.9,134.1 136.9,135.4 137.4,135.5 138.9,136.5 139.9,137.7 140.9,137.0 142.9,135.5 145.0,135.0 146.5,134.5 147.0,134.5 149.0,132.3 151.0,131.7 153.1,130.2 154.1,130.1 155.1,132.8 156.1,134.5 157.1,134.4 159.1,135.6 160.2,136.1 161.2,136.9 163.2,137.3 165.2,138.8 167.2,135.8 169.3,132.9 171.3,130.4 173.3,129.0 175.3,130.6 177.4,131.8 179.4,131.1 180.0,130.5 181.4,130.9 183.4,131.8 184.4,131.6 185.5,131.6 187.5,132.6 189.0,132.7 189.5,132.7 191.5,132.2 193.4,131.6 193.5,131.6 195.6,132.6 197.6,133.2 197.9,132.7 199.6,132.3 201.6,132.0 202.4,131.6 203.7,132.9 205.7,136.1 207.7,133.7 209.1,131.6 209.7,131.2 211.8,129.5 212.4,128.3 213.8,126.6 214.7,124.9 215.8,125.4 217.8,126.8 218.0,127.1 219.9,128.5 221.4,129.3 221.9,128.6 223.9,128.5 224.7,128.3 225.9,128.2 228.0,128.6 229.2,129.3 230.0,128.4 232.0,128.3 233.7,127.1 234.0,126.4 236.1,124.4 237.1,123.7 238.1,123.9 240.1,125.2 240.4,124.9 242.1,125.5 243.7,127.1 244.1,126.9 246.2,126.4 247.2,126.0 248.2,125.7 250.2,124.1 251.5,122.7 252.2,123.3 254.3,123.0 256.1,123.7 256.3,123.7 258.3,124.1 260.3,125.3 260.5,124.9 262.4,125.0 264.4,123.5 265.0,123.7 266.4,123.0 268.4,122.6 269.4,122.7 270.5,122.6 272.5,123.4 274.0,123.7 274.5,123.7 276.5,123.0 278.6,122.3 280.0,122.7 280.6,123.2 282.6,125.3 283.1,126.0 284.6,125.2 286.7,123.8 288.7,126.6 289.7,127.1 290.7,126.6 292.7,124.9 294.7,123.4 295.8,122.7 296.8,123.6 298.8,125.1 300.3,126.0 300.8,125.7 302.8,127.4 304.9,127.6 306.9,126.6 308.9,124.9 310.9,125.8 313.0,126.2 314.0,126.0 315.0,125.6 317.0,125.1 318.0,124.9 319.0,124.7 321.1,125.9 322.1,126.0 323.1,125.3 325.1,124.8 326.6,124.9 327.1,124.7 329.2,125.1 331.2,126.0 333.2,125.3 335.2,124.9 337.3,123.1 338.8,122.7 339.3,122.3 341.3,123.5 343.3,124.9 345.3,125.0 347.4,126.0 349.4,124.9 351.4,123.5 351.9,123.8 353.4,124.6 355.5,124.8 356.5,124.9 357.5,124.2 359.5,123.8 360.5,123.8 361.5,123.4 363.6,123.0 365.6,122.7 367.6,122.7 369.6,124.0 370.6,123.8 371.7,124.1 373.7,122.9 374.7,122.7 375.7,122.9 377.7,123.0 378.7,123.8 379.8,123.6 381.8,124.3 383.8,124.9 385.8,123.5 387.9,122.7 389.9,123.3 391.9,122.8 393.9,123.4 395.9,122.5 398.0,123.2 400.0,122.4 402.0,122.9 404.0,123.0 406.1,123.9 408.1,123.6 410.1,122.7 412.1,122.9 414.2,123.4 416.2,124.5 418.2,124.5 420.2,124.4 422.3,123.6 424.3,122.9 426.3,122.8 428.3,123.1 430.4,123.4 432.4,122.7 434.4,123.0 436.4,122.4 438.5,122.9 440.5,123.7 442.5,123.9 444.5,123.4 446.5,122.9 448.6,122.9 450.6,123.4 452.6,123.8 454.6,123.4 456.7,123.5 458.7,123.1 460.7,122.4 462.7,123.1 464.8,123.3 466.8,123.4 468.8,122.7 470.8,122.7 472.9,122.4 474.9,121.3 476.9,120.1 477.9,120.2 478.9,120.3 481.0,121.9 483.0,123.4 485.0,122.8 487.0,122.9 489.1,122.4 491.1,123.4 493.1,123.3 495.1,123.9 497.1,124.1 499.2,123.8 501.2,122.9 503.2,123.6 505.2,123.1 507.3,123.4 509.3,122.7 511.3,122.4 513.3,122.4 515.4,122.5 517.4,123.1 519.4,123.9 521.4,123.7 523.5,123.7 525.5,122.9 527.5,123.5 529.5,123.2 531.6,123.4 533.6,123.8 535.6,124.1 537.6,123.9 539.7,123.6 541.7,124.5 543.7,124.5"/>
<polyline fill="none" stroke="#9E480E" stroke-width="2.10" stroke-linejoin="round" stroke-linecap="round" points="37.7,163.5 38.2,154.5 39.7,154.5 41.7,154.1 43.8,154.8 45.8,153.9 47.8,154.2 49.8,154.4 51.9,153.7 53.9,153.9 55.9,154.6 57.9,153.8 60.0,154.2 62.0,154.0 64.0,154.0 66.0,154.0 68.1,153.6 70.1,154.3 72.1,153.5 74.1,153.6 76.2,153.4 78.2,153.6 80.2,153.7 82.2,154.2 84.3,153.6 86.3,153.3 88.3,153.7 90.3,153.4 92.3,154.0 94.4,153.0 96.4,153.4 98.4,153.1 100.0,153.2 100.4,153.3 102.5,153.0 104.5,153.3 106.5,153.0 108.5,153.2 110.6,153.4 112.6,153.0 114.6,152.5 116.6,152.4 118.7,153.3 120.7,152.8 122.7,152.5 124.7,153.2 126.8,152.8 128.8,152.9 130.8,153.0 132.8,152.4 134.9,152.4 136.9,152.9 138.9,152.1 140.9,152.7 142.9,152.0 145.0,152.6 147.0,152.5 149.0,152.8 151.0,152.6 153.1,152.2 155.1,151.9 157.1,151.8 159.1,152.2 161.2,152.1 163.2,151.6 165.2,152.4 167.2,152.0 169.3,152.2 171.3,151.6 173.3,151.6 175.3,151.4 177.4,151.7 179.4,151.5 181.4,151.7 183.4,151.6 185.0,151.7 185.5,152.0 187.5,151.7 189.5,150.7 190.0,150.9 191.5,150.7 193.5,150.4 195.6,150.8 197.6,150.9 199.6,150.0 200.1,150.3 201.6,150.4 203.7,149.7 205.7,149.2 207.7,149.8 208.2,149.5 209.7,149.1 211.8,148.7 213.8,148.7 215.8,148.3 217.8,148.2 219.9,148.0 221.9,147.7 223.9,147.6 225.9,147.1 226.3,147.3 228.0,146.7 230.0,146.4 232.0,146.2 233.6,146.4 234.0,146.0 236.1,143.8 237.3,142.7 238.1,142.6 240.1,141.3 240.9,140.9 242.1,140.5 244.1,139.8 244.6,139.1 246.2,138.3 248.2,138.2 250.2,136.7 251.8,136.4 252.2,136.1 254.3,136.8 255.5,137.2 256.3,137.1 258.3,136.8 259.1,136.4 260.3,135.9 262.4,136.0 262.8,135.4 264.4,135.4 266.4,136.4 268.4,136.7 270.0,136.4 270.5,136.3 272.5,138.0 273.6,138.2 274.5,137.3 276.5,137.2 277.2,136.4 278.6,136.0 280.6,135.2 280.9,134.6 282.6,134.2 284.5,133.6 284.6,133.3 286.7,133.6 288.2,132.7 288.7,132.4 290.7,131.0 290.9,131.3 292.7,131.0 294.5,130.5 294.7,130.4 296.8,129.9 298.2,129.5 298.8,129.2 300.8,129.2 301.8,129.5 302.8,129.4 304.9,128.8 305.5,128.7 306.9,127.9 308.9,127.7 309.1,127.7 310.9,128.4 312.7,128.7 313.0,128.7 315.0,127.4 316.3,126.8 317.0,127.0 319.0,128.1 319.9,128.7 321.1,128.1 323.1,127.6 323.6,127.7 325.1,126.9 327.1,125.6 327.2,125.9 329.2,126.6 330.9,126.8 331.2,126.9 333.2,126.4 334.5,125.9 335.2,125.3 337.3,125.1 338.2,125.0 339.3,125.2 341.3,125.4 341.8,125.9 343.3,127.6 345.3,128.9 345.4,128.7 347.4,127.2 349.1,125.9 349.4,126.0 351.4,124.4 352.7,124.0 353.4,124.0 355.5,124.8 356.4,125.0 357.5,125.2 359.5,125.1 360.0,125.0 361.5,124.1 363.6,124.0 365.6,124.7 367.2,125.0 367.6,125.4 369.6,125.2 370.9,125.0 371.7,125.6 373.7,126.2 374.5,125.9 375.7,125.3 377.7,124.9 378.1,125.0 379.8,125.6 381.8,126.8 383.8,127.1 385.8,125.2 387.9,124.0 388.9,122.7 389.9,122.8 391.9,122.0 393.9,121.7 394.9,121.3 395.9,122.5 398.0,123.7 400.0,124.6 402.0,126.6 402.5,126.6 404.0,126.2 406.1,126.2 408.1,126.6 410.1,126.0 412.1,126.3 414.2,125.6 416.2,125.4 417.7,125.5 418.2,125.8 420.2,126.6 422.3,127.0 423.3,127.1 424.3,127.4 426.3,127.0 428.3,126.6 430.4,126.4 432.4,125.6 434.4,125.0 436.4,125.1 438.5,125.3 439.5,125.5 440.5,125.9 442.5,126.7 444.5,127.8 446.5,128.1 447.6,128.7 448.6,127.7 450.0,127.3 450.6,127.7 452.6,127.9 452.7,128.2 454.6,127.5 455.5,127.3 456.7,127.2 458.7,128.4 459.1,128.2 460.7,127.6 462.7,127.3 463.7,127.3 464.8,128.2 466.8,128.9 467.3,129.1 468.8,129.4 470.0,130.1 470.8,130.8 472.9,131.4 473.7,131.8 474.9,130.8 476.9,129.8 477.2,129.1 478.9,126.5 479.9,124.6 481.0,125.8 482.7,127.3 483.0,127.3 485.0,129.4 486.3,130.1 487.0,129.2 489.1,126.4 491.1,126.2 492.7,125.4 493.1,125.5 495.1,127.0 496.3,127.3 497.1,127.4 499.2,126.5 500.0,126.4 501.2,126.2 503.2,125.8 503.6,125.4 505.2,126.6 507.3,127.4 508.2,127.3 509.3,128.3 511.3,128.8 512.7,130.1 513.3,129.9 515.4,128.9 516.4,128.2 517.4,126.9 519.4,125.7 520.9,124.6 521.4,125.2 523.5,126.2 524.6,126.4 525.5,127.0 527.5,126.7 528.2,127.3 529.5,127.1 531.6,126.8 531.8,126.4 533.6,127.4 535.4,128.2 535.6,127.8 537.6,126.0 539.0,125.4 539.7,125.6 540.9,124.6 541.7,126.6 543.6,130.1 543.7,130.2"/>
<polyline fill="none" stroke="#636363" stroke-width="2.10" stroke-linejoin="round" stroke-linecap="round" points="37.7,163.5 38.6,150.8 39.7,147.6 40.4,145.6 41.7,142.8 43.1,140.1 43.8,138.9 44.9,137.4 45.8,137.9 47.5,140.1 47.8,141.1 49.8,144.2 50.1,145.5 51.9,139.8 52.9,136.5 53.9,134.7 55.6,130.3 55.9,129.6 57.9,128.7 58.2,128.5 60.0,129.7 61.0,130.3 62.0,125.3 63.6,118.7 64.0,119.9 65.4,124.9 66.0,127.2 67.3,131.2 68.1,130.3 69.9,128.5 70.1,129.2 72.1,133.1 72.6,134.7 74.1,137.0 75.2,139.2 76.2,137.6 78.0,135.6 78.2,135.4 80.2,133.8 80.6,132.9 82.2,136.2 82.4,136.5 84.3,132.9 86.3,131.2 86.9,130.3 88.3,126.7 88.7,125.8 90.3,120.0 91.3,115.9 92.3,119.4 93.2,123.1 94.4,128.3 95.0,131.2 96.4,124.7 97.6,118.7 98.4,121.7 99.4,124.9 100.4,126.8 101.3,128.5 102.5,127.2 103.9,126.7 104.5,127.2 106.5,130.3 108.5,126.6 109.2,125.8 110.6,121.0 111.1,119.5 112.6,124.4 112.9,124.9 114.6,131.0 115.0,132.9 116.6,129.0 118.7,121.3 120.7,123.5 121.2,123.4 122.7,124.8 124.7,125.5 126.8,123.6 127.8,123.4 128.8,124.1 130.8,125.9 131.8,126.8 132.8,127.0 134.9,129.0 136.9,127.2 138.9,125.5 140.9,126.9 142.9,126.9 144.0,127.8 145.0,127.4 147.0,125.6 148.0,125.5 149.0,126.5 151.0,128.6 152.1,129.0 153.1,128.9 155.1,129.7 157.1,128.1 159.1,127.6 161.2,125.3 163.2,123.9 163.7,123.4 165.2,122.4 167.2,122.4 169.3,124.0 170.3,125.5 171.3,126.8 173.3,130.0 174.3,130.8 175.3,129.2 177.4,126.2 177.9,125.5 179.4,119.1 181.4,110.2 183.4,101.6 184.4,98.1 185.5,96.8 187.5,93.9 189.5,103.4 191.5,108.5 192.0,110.2 193.5,111.3 195.6,112.3 197.6,117.5 198.6,119.2 199.6,116.5 200.6,115.0 201.6,117.1 203.7,121.3 205.7,123.5 207.7,125.5 209.7,122.3 210.8,121.3 211.8,118.4 213.8,113.4 215.8,112.6 216.8,111.3 217.8,114.1 219.9,117.5 220.9,120.2 221.9,115.6 223.9,105.5 225.9,118.0 226.9,123.4 228.0,119.8 230.0,113.4 232.0,113.1 234.0,111.9 234.5,112.3 236.1,116.0 238.1,121.3 240.1,126.8 242.1,131.8 244.1,126.7 246.2,121.3 248.2,107.4 250.2,92.8 252.2,89.6 254.3,91.8 256.3,98.1 257.8,110.1 258.3,108.1 259.3,105.5 260.3,102.9 261.4,100.7 262.4,106.7 263.4,111.8 264.4,106.4 265.4,100.7 266.4,98.3 267.4,96.0 268.4,92.2 269.4,88.6 270.5,88.1 271.5,86.5 272.5,83.9 273.5,81.2 274.5,89.1 275.0,93.9 276.5,105.5 278.1,115.0 278.6,113.6 279.6,109.7 280.6,110.7 281.3,111.8 282.6,105.8 283.6,101.3 284.6,96.7 285.6,92.8 286.7,97.5 287.7,102.3 288.7,105.8 290.0,110.9 290.7,108.3 291.8,105.5 292.7,104.1 294.5,100.9 294.7,100.6 296.8,102.7 297.3,102.7 298.8,100.6 300.0,100.0 300.8,106.4 301.8,113.6 302.8,109.9 303.7,106.3 304.9,104.3 306.4,101.8 306.9,101.5 308.9,99.0 309.1,99.1 310.9,97.6 311.9,96.4 313.0,98.9 314.6,102.7 315.0,103.8 316.4,109.1 317.0,105.8 319.0,92.7 320.9,97.2 321.1,96.6 322.7,92.7 323.1,93.5 325.1,98.9 325.4,99.1 327.1,97.8 328.1,97.2 329.2,99.0 330.0,100.0 331.2,96.4 332.7,92.7 333.2,95.6 334.5,101.8 335.2,100.6 337.3,98.2 339.3,97.0 340.0,97.2 341.3,98.7 342.7,99.1 343.3,97.8 344.5,96.4 345.3,97.5 347.3,98.2 347.4,98.5 349.4,93.3 350.0,91.8 351.4,95.9 352.7,100.9 353.4,97.9 354.6,94.5 355.5,94.2 357.3,94.5 357.5,94.5 359.5,96.5 360.0,96.8 361.5,95.5 363.6,92.2 363.7,92.3 365.6,89.9 367.3,88.6 367.6,90.2 369.1,97.7 369.6,96.0 371.0,93.2 371.7,92.4 372.8,92.3 373.7,87.6 375.5,78.0 375.7,78.7 377.3,81.4 377.7,78.1 379.1,68.7 379.8,70.1 381.0,73.2 381.8,77.9 382.8,83.2 383.8,82.5 384.6,81.4 385.8,72.4 387.3,61.4 387.9,65.3 389.1,73.2 389.9,72.5 391.8,72.2 391.9,72.6 393.9,74.7 394.5,75.0 395.9,76.9 397.3,77.7 398.0,76.8 400.0,74.1 401.8,69.6 402.0,70.1 403.6,78.7 404.0,75.5 405.5,66.9 406.1,64.2 407.3,58.7 408.1,61.3 410.0,68.7 410.1,68.6 412.1,64.6 412.7,64.1 414.2,60.9 414.6,59.6 416.2,68.2 416.4,69.6 418.2,79.5 420.0,59.6 420.2,60.3 422.3,74.0 422.8,77.7 424.3,64.5 425.5,54.1 426.3,55.8 428.2,59.6 428.3,59.1 430.4,51.2 431.9,45.9 432.4,48.4 434.4,59.1 434.6,59.6 436.4,53.7 438.2,47.8 438.5,49.4 440.5,59.1 441.0,62.3 442.5,62.4 443.6,61.4 444.5,63.2 446.5,65.8 447.3,66.9 448.6,63.0 450.0,58.7 450.6,57.0 452.6,51.3 452.7,50.5 454.6,55.1 455.5,57.8 456.7,61.0 458.7,65.9 459.1,66.9 460.2,58.2 460.7,59.7 462.7,67.0 464.8,74.6 466.8,72.6 467.3,71.7 468.8,72.9 470.3,73.5 470.8,71.4 472.9,65.5 473.4,63.6 474.9,64.2 475.9,64.8 476.9,59.3 478.9,48.5 481.0,72.5 482.0,83.3 483.0,78.8 485.0,68.8 485.5,67.0 487.0,63.3 489.1,58.2 491.1,49.6 493.1,43.5 494.1,40.7 495.1,44.5 496.1,47.4 497.1,48.7 498.2,50.6 499.2,52.7 500.7,54.8 501.2,60.1 501.7,64.8 503.2,52.7 503.7,48.5 505.2,44.6 507.3,37.7 508.3,35.3 509.3,38.8 511.3,45.3 513.3,77.8 515.4,68.9 515.9,66.4 517.4,72.2 517.9,73.8 519.4,71.9 521.4,69.6 523.5,58.5 525.5,48.5 527.5,50.6 529.5,70.7 531.6,84.4 533.6,86.5 535.6,90.5 536.1,92.0 537.6,83.2 538.1,80.2 539.7,76.6 540.7,74.9 541.7,73.5 543.5,72.5 543.7,72.3"/>
<polyline fill="none" stroke="#5B9BD5" stroke-width="2.10" stroke-linejoin="round" stroke-linecap="round" points="37.7,398.1 38.7,383.8 39.7,383.8 41.7,383.8 42.8,383.6 43.8,382.7 45.8,383.8 47.8,382.4 49.8,383.5 51.9,382.9 52.9,383.1 53.9,383.5 55.9,382.8 57.9,383.6 60.0,383.4 62.0,383.9 63.0,384.5 64.0,385.0 66.0,384.3 68.1,385.0 70.1,385.4 72.1,383.0 73.1,383.6 74.1,382.7 76.2,382.0 78.2,382.4 80.2,383.1 82.2,382.4 84.3,382.7 86.3,382.6 88.3,383.1 90.3,383.2 92.3,382.6 94.4,382.1 96.4,382.4 98.4,382.4 100.4,382.1 102.5,381.9 104.5,383.5 106.5,383.3 108.5,383.1 110.6,383.3 112.6,383.6 114.6,382.4 116.6,382.3 118.7,382.4 120.7,382.0 122.7,381.7 124.7,382.0 126.8,380.4 128.8,381.2 130.8,381.3 132.8,381.7 134.9,381.6 136.9,381.2 138.9,382.4 140.9,383.0 142.9,381.9 145.0,383.2 147.0,382.6 149.0,383.6 151.0,382.8 153.1,383.3 155.1,383.3 157.1,383.7 159.1,384.5 161.2,384.7 163.2,384.6 165.2,383.7 167.2,384.1 169.3,383.6 171.3,383.8 173.3,384.2 175.3,385.2 177.4,384.4 179.4,385.0 181.4,385.6 183.4,385.0 185.5,384.8 187.5,383.3 189.5,384.1 191.5,383.3 193.5,383.3 195.6,384.0 197.6,385.3 199.6,384.5 201.6,385.2 203.7,385.0 205.7,383.5 207.7,384.6 209.7,384.1 211.8,384.8 213.8,385.1 215.8,385.2 217.8,384.1 219.9,385.0 221.9,384.2 223.9,385.2 225.9,384.9 228.0,385.0 230.0,384.1 232.0,384.2 234.0,385.4 236.1,384.2 238.1,386.1 240.1,385.5 242.1,386.0 244.1,384.6 246.2,383.8 248.2,384.5 250.2,384.1 252.2,384.2 254.3,383.4 256.3,382.6 258.3,382.8 260.3,383.1 262.4,383.9 264.4,382.7 266.4,384.6 268.4,383.4 270.5,384.1 272.5,383.4 274.5,383.1 276.5,384.7 278.6,384.5 280.6,383.6 282.6,383.1 284.6,382.6 286.7,383.6 288.7,384.0 290.7,383.1 292.7,382.3 294.7,383.7 296.8,384.4 298.8,383.8 300.8,384.1 302.8,384.1 304.9,384.5 306.9,383.3 308.9,383.2 310.9,383.6 313.0,384.0 315.0,383.9 317.0,383.9 319.0,383.6 321.1,384.1 323.1,384.8 325.1,383.4 327.1,384.1 329.2,384.5 331.2,383.6 333.2,383.6 335.2,383.1 337.3,383.6 339.3,383.5 341.3,384.5 343.3,383.5 344.3,384.1 345.3,381.6 346.4,380.7 347.4,382.1 348.4,384.1 349.4,383.7 351.4,383.6 352.4,383.6 353.4,382.1 355.2,378.7 355.5,379.7 357.5,383.6 359.5,384.1 361.5,383.7 362.6,384.1 363.6,384.4 365.6,384.3 367.6,383.6 369.6,384.5 371.7,384.5 373.7,384.1 375.7,384.7 377.7,384.7 379.8,383.6 381.8,384.1 383.8,384.0 385.8,384.2 387.9,383.9 389.9,383.5 391.9,384.5 393.9,383.7 395.9,385.7 398.0,385.3 400.0,384.8 402.0,385.0 404.0,385.3 406.1,384.4 408.1,385.2 410.1,385.5 412.1,384.5 414.2,385.2 416.2,384.7 418.2,385.8 420.2,385.8 422.3,385.0 424.3,384.1 426.3,384.7 428.3,384.6 430.4,384.2 432.4,384.5 434.4,385.0 436.4,384.2 438.5,385.6 440.5,386.0 442.5,385.5 444.5,384.5 446.5,385.7 448.6,384.8 450.6,385.4 452.6,385.0 454.6,385.5 456.7,386.2 458.7,385.9 460.7,385.1 462.7,385.5 464.8,385.9 466.8,384.6 468.8,385.7 470.8,385.0 472.9,385.0 474.9,384.7 476.9,384.7 478.9,384.8 481.0,386.0 483.0,385.5 485.0,384.6 487.0,384.8 489.1,384.6 491.1,384.4 493.1,385.0 495.1,385.6 497.1,385.4 499.2,385.7 501.2,386.2 503.2,385.5 505.2,385.3 507.3,384.4 509.3,384.6 511.3,385.2 513.3,385.0 515.4,385.6 517.4,386.1 519.4,385.3 521.4,384.9 523.5,385.5 525.5,385.6 527.5,386.2 529.5,384.9 531.6,386.0 533.6,385.0 535.6,385.4 537.6,384.4 539.7,383.7 540.7,383.6 541.7,383.0 543.7,384.1"/>
<polyline fill="none" stroke="#ED7D31" stroke-width="2.10" stroke-linejoin="round" stroke-linecap="round" points="37.7,398.1 38.7,394.4 39.7,394.4 41.7,394.0 43.8,394.4 45.8,394.0 47.8,394.5 49.8,394.4 51.9,394.2 53.9,394.4 55.9,394.3 57.9,393.8 60.0,394.2 62.0,394.3 64.0,394.2 66.0,394.5 68.1,394.4 70.1,394.0 72.1,393.8 74.1,393.7 76.2,394.4 78.2,394.3 80.2,394.2 82.2,394.0 84.3,394.0 86.3,393.7 88.3,394.0 90.3,394.0 92.3,393.6 94.4,394.1 96.4,394.1 98.4,394.1 100.4,393.7 102.5,393.5 104.5,393.7 106.5,394.1 108.5,393.9 110.6,394.1 112.6,393.8 114.6,393.7 116.6,394.2 118.7,393.4 120.7,393.5 122.7,393.8 124.7,393.9 126.8,393.7 128.8,393.8 130.8,393.6 132.8,393.9 134.9,394.1 136.9,394.0 138.9,393.6 140.9,393.8 142.9,393.6 145.0,394.0 147.0,393.5 149.0,393.7 151.0,393.9 153.1,393.7 155.1,393.4 157.1,393.7 159.1,393.6 161.2,393.8 163.2,393.5 165.2,393.4 167.2,393.9 169.3,393.4 171.3,393.2 173.3,393.8 175.3,393.7 177.4,393.0 179.4,393.3 181.4,392.8 183.4,393.5 185.5,393.4 187.5,392.9 189.5,392.7 191.5,393.1 193.5,393.2 195.6,392.5 197.6,392.6 199.6,392.8 201.6,392.3 203.7,392.4 205.7,392.1 207.7,392.3 209.7,392.3 211.8,391.9 213.8,391.6 215.8,391.7 217.8,391.4 219.9,391.2 221.9,391.1 223.9,391.2 225.9,390.9 228.0,391.2 230.0,390.8 232.0,390.6 234.0,390.3 236.1,390.1 238.1,390.1 240.1,390.1 242.1,389.7 244.1,388.6 246.2,388.2 248.2,387.9 250.2,387.0 252.2,387.2 254.3,386.7 256.3,387.0 258.3,386.7 260.3,386.5 262.4,386.1 264.4,385.9 266.4,385.9 268.4,386.4 270.5,386.0 272.5,385.9 274.5,386.3 276.5,386.5 278.6,386.4 280.6,386.0 282.6,385.5 284.6,385.8 286.7,385.7 288.7,386.1 290.7,386.0 292.7,386.2 294.7,386.3 296.8,386.1 298.8,386.3 300.8,385.9 302.8,385.7 304.9,386.0 306.9,385.4 308.9,385.8 310.9,385.5 313.0,385.8 315.0,386.0 317.0,385.2 319.0,385.4 321.1,386.2 323.1,385.4 325.1,385.8 327.1,386.0 329.2,385.9 331.2,386.0 333.2,386.3 335.2,386.3 337.3,385.6 339.3,385.2 341.3,385.9 343.3,385.4 345.3,385.1 347.4,384.9 349.4,384.6 351.4,385.0 353.4,385.1 355.5,384.7 357.5,384.9 359.5,385.3 361.5,384.8 363.6,385.2 365.6,384.3 367.6,384.9 369.6,384.9 371.7,384.5 373.7,384.9 375.7,383.9 377.7,384.3 379.8,384.2 381.8,384.2 383.8,383.9 385.8,383.6 387.9,384.2 389.9,384.1 391.9,383.6 393.9,383.8 395.9,384.1 398.0,383.8 400.0,383.4 402.0,384.0 404.0,383.5 406.1,384.2 408.1,384.1 410.1,383.7 412.1,384.1 414.2,383.7 416.2,383.5 418.2,383.6 420.2,384.3 422.3,383.5 424.3,384.2 426.3,383.4 428.3,383.5 430.4,383.6 432.4,383.6 434.4,383.3 436.4,383.9 438.5,383.0 440.5,383.2 442.5,382.8 444.5,382.6 446.5,383.1 448.6,382.6 450.6,382.7 452.6,382.6 454.6,382.8 456.7,382.1 458.7,382.0 460.7,382.6 462.7,382.9 464.8,381.8 466.8,382.2 468.8,382.7 470.8,382.5 472.9,382.1 474.9,382.7 476.9,382.3 478.9,382.7 481.0,381.9 483.0,382.3 485.0,382.8 487.0,382.4 489.1,382.5 491.1,382.5 493.1,382.6 495.1,382.4 497.1,382.8 499.2,382.9 501.2,382.1 503.2,382.2 505.2,382.6 507.3,382.5 509.3,382.5 511.3,382.4 513.3,382.1 515.4,382.6 517.4,382.6 519.4,382.5 521.4,382.2 523.5,382.0 525.5,382.9 527.5,382.9 529.5,383.0 531.6,382.5 533.6,383.0 535.6,383.3 537.6,382.6 539.7,382.5 541.7,382.7 543.7,383.1"/>
<polyline fill="none" stroke="#A5A5A5" stroke-width="2.10" stroke-linejoin="round" stroke-linecap="round" points="37.7,398.1 38.7,387.9 39.7,388.0 41.7,389.1 43.8,388.1 45.8,388.8 47.8,388.4 49.8,388.8 51.9,387.8 53.9,387.4 55.9,388.4 57.9,387.4 60.0,387.9 62.0,388.9 64.0,388.8 66.0,387.2 68.1,387.9 70.1,387.1 72.1,387.5 74.1,388.7 76.2,387.2 78.2,387.6 80.2,387.4 82.2,387.5 84.3,388.4 86.3,387.7 88.3,388.4 90.3,388.2 92.3,388.8 94.4,388.7 96.4,388.1 98.4,388.8 100.4,388.3 102.5,388.7 104.5,387.5 106.5,387.7 108.5,387.9 110.6,388.1 112.6,388.9 114.6,388.3 116.6,388.1 118.7,387.7 120.7,387.8 122.7,387.7 124.7,389.3 126.8,389.1 128.8,388.4 130.8,389.3 132.8,388.6 134.9,389.0 136.9,388.2 138.9,388.6 140.9,388.0 142.9,388.6 145.0,388.3 147.0,388.1 149.0,388.9 151.0,389.7 153.1,388.0 155.1,389.4 157.1,389.1 159.1,387.8 161.2,388.6 163.2,389.6 165.2,389.5 167.2,388.6 169.3,389.0 171.3,388.8 173.3,387.9 175.3,388.4 177.4,388.4 179.4,388.0 181.4,388.8 183.4,388.0 185.5,388.5 187.5,387.1 189.5,387.9 191.5,387.8 193.5,387.1 195.6,388.3 197.6,388.8 199.6,388.1 201.6,388.2 203.7,388.3 205.7,387.5 207.7,387.9 209.7,388.3 211.8,388.4 213.8,387.9 215.8,388.1 217.8,387.9 219.9,388.3 221.9,388.6 223.9,387.9 225.9,388.7 228.0,389.0 230.0,388.4 232.0,389.3 234.0,388.0 236.1,389.2 238.1,387.8 240.1,388.4 242.1,388.2 244.1,389.1 246.2,387.5 248.2,388.7 250.2,389.3 252.2,389.4 254.3,388.9 256.3,388.3 258.3,388.3 260.3,388.9 262.4,387.8 264.4,387.7 266.4,389.4 268.4,388.9 270.5,388.0 272.5,388.6 274.5,388.3 276.5,389.5 278.6,388.4 280.6,389.3 282.6,389.3 284.6,388.5 286.7,388.4 288.7,388.9 290.7,388.9 292.7,388.7 294.7,389.1 296.8,388.6 298.8,389.6 300.8,388.8 302.8,388.3 304.9,389.6 306.9,389.8 308.9,389.4 310.9,389.2 313.0,389.9 315.0,390.0 317.0,388.2 319.0,389.2 321.1,388.2 323.1,388.9 325.1,388.7 327.1,389.2 329.2,389.6 331.2,390.0 333.2,388.8 335.2,388.4 337.3,390.3 339.3,389.9 341.3,389.4 343.3,389.4 345.3,388.5 347.4,388.4 349.4,390.1 351.4,389.3 353.4,389.9 355.5,389.7 357.5,389.6 359.5,389.7 361.5,388.5 363.6,388.5 365.6,388.8 367.6,389.4 369.6,389.4 371.7,389.3 373.7,388.9 375.7,388.7 377.7,388.1 379.8,389.0 381.8,388.9 383.8,388.6 385.8,389.0 387.9,389.5 389.9,389.3 391.9,388.4 393.9,387.7 395.9,388.0 398.0,388.7 400.0,388.9 402.0,388.1 404.0,389.4 406.1,388.5 408.1,389.1 410.1,387.7 412.1,388.2 414.2,387.7 416.2,389.2 418.2,388.7 420.2,389.6 422.3,388.9 424.3,388.4 426.3,388.5 428.3,388.5 430.4,388.2 432.4,388.0 434.4,389.1 436.4,388.5 438.5,388.8 440.5,389.3 442.5,388.9 444.5,388.5 446.5,388.8 448.6,388.6 450.6,388.6 452.6,389.3 454.6,388.2 456.7,388.8 458.7,388.3 460.7,389.4 462.7,388.7 464.8,390.0 466.8,389.1 468.8,389.5 470.8,389.2 472.9,389.8 474.9,389.6 476.9,389.5 478.9,388.3 481.0,388.6 483.0,389.8 485.0,389.1 487.0,390.3 489.1,389.6 491.1,390.0 493.1,389.4 495.1,389.9 497.1,390.3 499.2,389.6 501.2,390.2 503.2,389.1 505.2,388.8 507.3,388.5 509.3,388.7 511.3,390.0 513.3,389.5 515.4,388.3 517.4,388.2 519.4,389.1 521.4,389.2 523.5,388.8 525.5,388.1 527.5,388.6 529.5,389.8 531.6,389.5 533.6,389.6 535.6,388.5 537.6,389.3 539.7,388.3 541.7,388.5 543.7,388.9"/>
<polyline fill="none" stroke="#FFC000" stroke-width="2.10" stroke-linejoin="round" stroke-linecap="round" points="37.7,398.1 38.5,390.8 39.5,387.9 39.7,388.1 41.3,389.5 41.7,390.4 43.8,390.7 45.8,390.8 45.9,390.5 47.8,390.0 49.8,390.1 51.9,390.8 53.2,390.5 53.9,390.9 55.9,389.1 57.9,389.1 58.6,389.5 60.0,389.6 62.0,387.2 62.3,387.7 64.0,390.3 65.0,391.4 66.0,391.4 67.8,392.3 68.1,392.4 70.1,391.8 71.4,390.5 72.1,389.7 74.1,386.8 76.2,385.6 77.8,385.0 78.2,384.7 80.2,385.7 82.2,385.9 84.3,385.8 86.3,385.1 87.7,385.0 88.3,385.1 90.3,385.9 92.3,386.1 93.2,386.8 94.4,385.9 96.4,386.1 96.8,385.9 98.4,384.8 100.4,385.0 102.5,385.5 104.5,386.2 105.9,385.9 106.5,386.6 108.5,385.9 110.6,386.5 111.4,386.8 112.6,387.3 114.6,385.7 115.0,385.9 116.6,386.4 118.7,385.0 120.7,384.8 122.7,386.3 124.1,385.9 124.7,385.2 126.8,386.6 128.8,387.2 129.6,386.8 130.8,386.7 132.8,386.5 134.9,386.7 135.0,385.9 136.9,386.8 138.9,386.0 140.9,385.1 142.9,385.5 145.0,384.3 147.0,384.6 149.0,384.5 151.0,384.2 153.1,384.5 155.1,385.6 157.1,385.0 159.1,386.0 161.2,385.3 163.2,384.9 165.2,386.3 167.2,385.2 169.3,385.5 171.3,384.9 173.3,386.1 175.3,386.5 177.4,386.5 179.4,386.5 181.4,386.4 183.4,386.2 185.5,386.3 187.5,385.4 189.5,385.5 191.5,386.2 193.5,386.1 195.6,386.5 197.6,386.6 199.6,386.0 201.6,386.4 203.7,385.6 205.7,385.5 207.7,385.6 209.7,385.0 211.8,385.4 213.8,384.6 215.8,386.4 217.8,385.3 219.9,386.0 221.9,385.8 223.9,385.5 225.9,384.7 228.0,385.4 230.0,385.0 232.0,385.5 234.0,386.2 236.1,386.1 238.1,385.8 240.1,386.5 242.1,386.4 244.1,386.9 246.2,386.1 248.2,386.3 250.2,385.5 252.2,384.4 254.3,385.5 256.3,384.4 258.3,384.1 260.3,384.5 262.4,384.4 264.4,384.4 266.4,384.4 268.4,384.8 270.5,385.5 272.5,384.9 274.5,384.9 276.5,385.8 278.6,384.4 280.6,385.0 282.6,384.6 284.6,384.4 286.7,385.3 288.7,384.9 290.7,385.5 292.7,385.4 294.7,384.7 296.8,384.4 298.8,384.7 300.8,384.5 302.8,384.0 304.9,385.6 306.9,385.2 308.9,385.1 310.9,385.5 313.0,385.5 315.0,386.1 317.0,385.2 319.0,384.9 321.1,385.0 323.1,384.3 325.1,384.4 327.1,384.9 329.2,384.5 331.2,384.1 333.2,383.9 335.2,385.2 337.3,384.0 339.3,384.6 341.3,385.0 343.3,385.4 345.3,385.6 347.4,384.7 349.4,383.8 351.4,384.5 353.4,384.6 355.5,384.2 357.5,383.4 359.5,383.9 361.5,384.1 363.6,384.9 365.6,383.6 367.6,384.1 369.6,384.2 371.7,385.0 373.7,385.4 375.7,384.3 377.7,384.8 379.8,384.6 381.8,384.1 383.8,383.3 385.8,384.1 387.9,383.7 389.9,385.0 391.9,384.5 393.9,384.4 395.9,384.1 398.0,384.8 400.0,384.7 402.0,384.1 404.0,383.4 406.1,383.5 408.1,384.0 410.1,384.1 412.1,384.5 414.2,384.3 416.2,384.2 418.2,385.1 420.2,384.5 422.3,384.1 424.3,385.1 426.3,384.7 428.3,384.2 430.4,385.0 432.4,385.0 434.4,384.3 436.4,385.0 438.5,384.1 440.5,385.4 442.5,384.5 444.5,384.3 446.5,385.5 448.6,384.3 450.6,384.4 452.6,385.0 454.6,384.5 456.7,385.4 458.7,385.3 460.7,385.1 462.7,384.5 464.8,386.0 466.8,386.6 467.8,387.9 468.8,386.8 470.8,385.1 472.9,384.5 474.9,385.2 476.9,383.7 478.9,384.6 481.0,383.3 483.0,384.1 485.0,383.8 487.0,384.4 489.1,383.8 491.1,383.7 493.1,384.5 495.1,385.2 497.1,384.0 499.2,383.4 501.2,384.5 503.2,384.1 505.2,385.0 507.3,384.3 509.3,383.5 511.3,384.3 513.3,384.5 515.4,384.6 517.4,383.9 519.4,384.1 521.4,384.6 523.5,384.1 525.5,384.4 527.5,384.9 529.5,385.2 531.6,384.5 533.6,384.5 535.6,385.3 537.6,383.7 539.7,384.3 541.7,384.5 543.7,384.1"/>
<polyline fill="none" stroke="#4472C4" stroke-width="2.10" stroke-linejoin="round" stroke-linecap="round" points="37.7,398.1 38.5,389.4 39.4,382.4 39.7,382.3 41.7,382.1 42.8,381.2 43.8,381.2 45.8,382.3 46.8,382.1 47.8,382.5 49.8,381.1 50.9,381.2 51.9,380.7 53.9,378.4 54.6,378.0 55.9,376.9 56.9,376.8 57.9,379.5 59.0,382.6 60.0,383.6 62.0,383.9 62.3,384.5 64.0,385.4 65.0,385.5 66.0,386.2 67.7,387.9 68.1,387.2 70.1,386.1 71.1,385.5 72.1,385.0 74.1,384.5 76.2,383.3 78.2,382.1 80.2,382.3 82.2,381.9 83.2,381.2 84.3,380.5 86.3,381.1 87.3,380.2 88.3,380.1 90.3,380.1 91.3,379.2 92.3,378.3 93.9,375.8 94.4,376.7 95.9,379.2 96.4,378.0 98.4,374.9 100.4,378.7 102.5,377.7 103.5,376.3 104.5,375.9 106.5,373.2 107.0,372.4 108.5,369.6 110.6,367.1 112.6,366.1 113.6,364.9 114.6,365.9 115.6,366.2 116.6,365.9 118.7,363.7 120.7,362.7 122.7,360.3 124.7,360.4 125.7,359.4 126.8,358.0 128.4,355.0 128.8,355.6 130.8,359.4 132.8,358.8 133.8,358.4 134.9,360.1 136.5,362.8 136.9,362.7 138.9,360.6 139.9,359.4 140.9,359.6 142.9,358.7 144.0,358.4 145.0,357.4 147.0,355.8 148.0,354.1 149.0,354.8 150.0,354.7 151.0,355.6 153.1,355.9 154.1,356.0 155.1,355.0 157.1,354.4 159.1,353.6 161.2,353.8 163.2,354.7 165.2,357.3 166.2,359.1 167.2,357.6 169.3,356.0 171.3,353.8 173.3,352.6 175.3,354.8 176.3,356.0 177.4,355.3 179.4,353.2 180.4,351.6 181.4,352.5 183.4,352.5 184.4,352.6 185.5,352.6 187.5,354.2 189.5,356.0 191.5,353.7 193.5,352.6 195.6,353.5 197.6,353.1 198.6,353.6 199.6,354.5 201.6,355.3 202.7,356.0 203.7,355.0 205.7,352.6 207.7,354.8 209.7,356.0 211.8,353.7 213.3,351.6 213.8,351.7 215.8,354.9 216.8,356.0 217.8,356.4 219.9,357.9 221.9,350.5 222.9,345.8 223.9,347.0 225.9,350.2 228.0,351.5 230.0,353.6 232.0,350.6 233.0,348.2 234.0,350.3 236.1,354.7 238.1,350.2 240.1,351.9 242.1,354.7 244.1,352.1 245.2,350.2 246.2,351.3 248.2,351.6 250.2,353.7 251.2,354.7 252.2,353.0 254.3,351.6 255.8,349.2 256.3,350.5 258.3,356.5 259.3,359.9 260.3,357.5 262.4,354.7 264.4,349.2 266.4,354.7 268.4,355.9 270.5,356.0 272.5,354.0 273.5,353.6 274.5,352.7 276.5,352.6 278.6,356.0 280.6,354.8 282.6,354.3 283.6,353.6 284.6,353.9 286.7,352.1 288.7,352.0 289.3,351.6 290.7,353.3 292.7,357.0 293.7,357.9 294.7,356.8 296.8,354.9 297.8,353.6 298.8,354.7 300.8,355.4 301.8,356.0 302.8,355.3 304.9,353.3 306.9,352.6 308.9,352.6 310.9,353.6 313.0,355.5 315.0,357.0 317.0,355.1 319.0,352.6 321.1,353.8 323.1,354.7 325.1,352.7 326.1,352.6 327.1,353.5 329.2,354.7 330.2,354.7 331.2,355.5 333.2,356.0 334.2,356.0 335.2,356.0 337.3,355.0 339.3,354.7 341.3,353.5 343.3,352.2 345.3,351.6 347.4,353.1 348.4,353.6 349.4,351.9 351.4,349.2 353.4,351.3 354.5,351.6 355.5,350.5 357.5,349.1 359.1,348.2 359.5,348.1 361.5,350.4 362.6,351.8 363.6,352.1 365.6,352.1 366.6,351.6 367.6,352.5 369.6,351.7 371.7,353.1 372.7,353.1 373.7,352.2 375.7,350.0 376.7,349.2 377.7,349.6 379.8,348.9 381.8,348.2 383.8,346.1 385.8,344.4 387.9,346.5 389.9,347.8 391.9,348.1 393.9,348.5 394.9,348.7 395.9,349.3 398.0,350.7 400.0,350.2 402.0,349.2 403.0,349.7 404.0,350.0 406.1,348.8 408.1,348.7 410.1,347.5 412.1,346.3 414.2,348.0 416.2,350.7 418.2,350.0 420.2,348.5 421.2,348.7 422.3,347.8 424.3,347.6 425.3,347.8 426.3,348.8 428.3,349.5 429.3,349.7 430.4,350.4 432.4,350.4 434.4,351.8 436.4,349.7 438.5,347.8 440.5,345.7 442.5,342.9 444.5,347.1 445.5,348.7 446.5,348.3 448.6,347.2 450.1,347.3 450.6,346.9 452.6,346.7 454.6,345.6 455.7,344.5 456.7,344.8 458.7,344.9 460.7,346.3 461.7,347.3 462.7,347.7 464.8,348.2 466.8,350.5 467.3,350.9 468.8,349.6 469.3,349.2 470.8,350.9 472.9,346.3 474.9,348.1 475.9,348.2 476.9,348.7 478.9,349.2 481.0,346.3 483.0,343.9 483.6,343.9 485.0,345.1 486.0,345.3 487.0,347.1 488.0,348.2 489.1,347.4 491.1,347.3 493.1,348.2 495.1,347.0 496.1,346.3 497.1,347.0 499.2,346.3 501.2,347.2 502.2,347.3 503.2,347.8 505.2,348.2 507.3,346.9 508.3,346.3 509.3,345.2 510.9,343.6 511.3,344.7 513.3,346.3 515.4,347.9 516.4,349.2 517.4,348.5 519.4,347.3 521.4,348.3 521.9,349.2 523.5,348.1 524.5,347.3 525.5,347.8 527.5,348.2 529.5,347.2 530.5,346.3 531.6,348.1 533.1,349.2 533.6,348.9 535.6,349.2 537.6,350.9 539.7,348.7 540.7,348.2 541.7,347.1 543.7,345.5"/>
<polyline fill="none" stroke="#70AD47" stroke-width="2.10" stroke-linejoin="round" stroke-linecap="round" points="37.7,398.1 38.7,386.0 39.7,382.8 40.5,380.2 41.7,379.2 43.8,376.8 45.8,378.7 46.8,378.7 47.8,378.7 49.8,381.2 50.9,381.2 51.9,381.4 53.9,379.8 54.9,380.2 55.9,380.3 57.9,379.2 60.0,377.4 61.0,375.8 62.0,377.6 63.0,380.2 64.0,379.4 66.0,375.8 68.1,379.2 69.1,381.2 70.1,380.6 72.1,379.9 73.1,379.2 74.1,380.0 76.2,381.0 77.2,381.2 78.2,380.4 80.2,379.7 81.2,379.2 82.2,379.2 84.3,380.4 85.3,381.2 86.3,381.0 88.3,380.0 90.3,380.2 92.3,380.5 94.4,381.2 96.4,380.6 98.4,379.2 100.4,379.5 102.5,380.7 103.5,381.2 104.5,380.3 106.5,380.9 108.5,380.2 110.6,380.0 112.6,380.5 113.6,381.2 114.6,381.7 116.6,381.7 118.7,382.1 120.7,381.7 122.7,381.2 124.7,380.5 126.8,379.6 127.8,379.2 128.8,379.4 130.8,379.5 131.8,380.2 132.8,379.9 134.9,380.4 136.9,381.2 138.9,380.4 140.9,380.1 141.9,380.2 142.9,380.5 145.0,379.1 146.0,379.2 147.0,378.8 149.0,379.3 150.0,379.7 151.0,379.8 153.1,382.0 154.1,382.1 155.1,382.2 157.1,380.7 158.1,379.7 159.1,380.6 161.2,380.7 162.2,380.9 163.2,381.4 165.2,382.4 166.2,383.1 167.2,382.6 169.3,380.9 171.3,379.9 173.3,379.7 175.3,380.3 177.4,380.9 179.4,380.2 181.4,379.7 183.4,379.0 185.5,378.4 187.5,377.2 188.5,376.6 189.5,376.6 191.5,378.3 192.5,378.7 193.5,379.6 195.6,380.4 196.6,380.9 197.6,380.0 199.6,379.4 200.6,379.7 201.6,380.0 203.7,380.7 205.7,380.9 207.7,380.3 209.7,379.7 211.8,380.6 213.8,380.9 215.8,381.0 217.8,380.9 219.9,381.9 221.9,381.5 222.9,382.1 223.9,381.5 225.9,378.7 228.0,378.3 228.5,377.8 230.0,377.6 232.0,378.1 233.0,378.7 234.0,378.7 236.1,379.9 237.1,379.7 238.1,380.4 240.1,380.6 242.1,382.1 244.1,377.9 245.2,375.4 246.2,374.3 248.2,372.9 250.2,372.2 251.2,371.0 252.2,368.5 253.3,366.6 254.3,365.6 255.3,365.7 256.3,366.4 257.3,367.6 258.3,365.5 260.3,361.3 260.8,360.3 262.4,361.6 263.4,362.3 264.4,360.2 265.4,359.1 266.4,360.9 267.4,363.3 268.4,361.6 269.4,361.3 270.5,360.3 271.5,357.9 272.5,359.1 273.5,360.3 274.5,361.1 276.5,363.5 278.6,357.9 280.6,351.6 282.6,356.0 284.6,352.6 285.6,351.6 286.7,350.6 288.7,347.3 289.3,347.3 290.7,347.4 291.7,348.2 292.7,346.7 294.7,342.9 296.8,343.9 298.8,339.5 300.8,335.1 302.3,331.8 302.8,330.8 304.9,326.1 305.9,323.1 306.9,320.7 307.9,318.7 308.9,317.8 310.9,321.6 311.4,322.1 313.0,326.3 314.0,328.4 315.0,327.4 316.0,325.5 317.0,323.9 318.0,322.1 319.0,317.8 321.1,314.4 323.1,304.7 324.1,296.9 325.1,300.2 325.6,301.3 327.1,312.4 329.2,301.3 331.2,306.1 333.2,305.7 335.2,307.6 337.3,306.6 339.3,305.7 341.3,302.3 343.3,306.6 345.3,303.7 347.4,303.7 349.4,305.7 351.4,303.7 353.4,305.6 354.5,307.6 355.5,307.9 356.5,309.0 357.5,304.7 359.5,315.3 361.2,288.2 361.5,288.1 362.6,287.3 363.6,289.2 365.6,262.1 367.6,269.8 368.6,268.9 369.6,259.7 371.7,276.1 372.7,289.2 373.7,280.1 374.7,270.8 375.7,275.3 376.7,279.5 377.7,281.1 378.7,282.9 379.8,298.1 380.3,306.6 381.3,319.7 381.8,318.3 382.8,316.3 383.8,314.6 384.3,314.4 385.8,322.1 387.9,329.9 389.9,319.7 391.9,329.4 393.9,327.4 395.9,321.5 396.5,319.7 398.0,312.8 398.5,311.0 400.0,307.0 401.0,303.7 402.0,299.2 403.0,294.5 404.0,282.9 406.1,270.8 408.1,284.8 409.1,296.9 410.1,289.2 412.1,291.1 414.2,279.5 416.2,286.8 418.2,291.1 420.2,284.8 422.3,276.1 423.3,279.5 424.3,287.6 425.3,296.0 426.3,290.8 427.3,285.3 428.3,289.2 430.4,281.5 432.4,296.0 434.4,294.0 436.4,288.2 438.5,285.8 440.0,294.0 440.5,299.0 441.1,303.7 442.5,294.2 443.0,291.1 444.5,285.1 445.0,283.9 446.5,294.0 448.6,280.5 450.6,283.9 452.6,294.1 453.1,296.0 454.6,291.3 455.1,290.2 456.7,288.4 458.7,284.8 460.7,277.8 461.2,276.1 462.7,279.3 463.2,280.5 464.8,287.5 465.3,289.2 466.8,295.9 467.3,298.9 468.8,294.3 469.3,292.1 470.8,286.3 471.8,282.9 472.9,282.3 473.4,281.5 474.9,296.0 476.9,291.1 478.9,301.3 481.0,304.7 483.0,308.9 484.0,310.0 485.0,308.8 486.0,306.6 487.0,305.4 489.1,303.7 491.1,307.6 493.1,305.7 495.1,305.2 497.1,309.0 499.2,304.2 501.2,302.7 503.2,299.8 505.2,302.5 506.3,303.7 507.3,304.5 509.3,306.8 510.3,308.1 511.3,305.7 513.3,302.8 515.4,298.9 517.4,303.9 518.4,306.1 519.4,306.1 520.4,306.1 521.4,309.5 521.9,311.0 523.5,307.9 524.0,306.1 525.5,308.4 526.5,310.0 527.5,310.6 529.5,313.9 531.6,315.0 533.6,315.8 535.6,313.3 537.6,311.9 539.7,311.9 541.7,315.2 543.7,318.2"/>
<line x1="77.0" y1="205.9" x2="89.2" y2="205.9" stroke="#5B9BD5" stroke-width="1.8"/><text x="89.6" y="209.2" font-size="9" font-weight="bold" fill="#404040">Quinizarin</text>
<line x1="156.5" y1="205.9" x2="168.7" y2="205.9" stroke="#ED7D31" stroke-width="1.8"/><text x="169.1" y="209.2" font-size="9" font-weight="bold" fill="#404040">Alizarin</text>
<line x1="236.7" y1="205.9" x2="248.9" y2="205.9" stroke="#A5A5A5" stroke-width="1.8"/><text x="249.3" y="209.2" font-size="9" font-weight="bold" fill="#404040">Rhein</text>
<line x1="316.4" y1="205.9" x2="328.6" y2="205.9" stroke="#FFC000" stroke-width="1.8"/><text x="329.0" y="209.2" font-size="9" font-weight="bold" fill="#404040">Emodin</text>
<line x1="396.5" y1="205.9" x2="408.7" y2="205.9" stroke="#4472C4" stroke-width="1.8"/><text x="409.1" y="209.2" font-size="9" font-weight="bold" fill="#404040">Chrysophanol</text>
<line x1="77.0" y1="221.6" x2="89.2" y2="221.6" stroke="#70AD47" stroke-width="1.8"/><text x="89.6" y="224.9" font-size="9" font-weight="bold" fill="#404040">Physcion</text>
<line x1="156.5" y1="221.6" x2="168.7" y2="221.6" stroke="#255E91" stroke-width="1.8"/><text x="169.1" y="224.9" font-size="9" font-weight="bold" fill="#404040" textLength="51.0" lengthAdjust="spacingAndGlyphs">Anthrarufin</text>
<line x1="236.7" y1="221.6" x2="248.9" y2="221.6" stroke="#9E480E" stroke-width="1.8"/><text x="249.3" y="224.9" font-size="9" font-weight="bold" fill="#404040">Aloin</text>
<line x1="316.4" y1="221.6" x2="328.6" y2="221.6" stroke="#636363" stroke-width="1.8"/><text x="329.0" y="224.9" font-size="9" font-weight="bold" fill="#404040" textLength="65.6" lengthAdjust="spacingAndGlyphs">Anthraquinone</text>
<line x1="68.0" y1="440.0" x2="80.2" y2="440.0" stroke="#5B9BD5" stroke-width="1.8"/><text x="80.6" y="443.3" font-size="9" font-weight="bold" fill="#404040">Abietic acid</text>
<line x1="142.7" y1="440.0" x2="154.9" y2="440.0" stroke="#ED7D31" stroke-width="1.8"/><text x="155.3" y="443.3" font-size="9" font-weight="bold" fill="#404040">Emodin</text>
<line x1="200.2" y1="440.0" x2="212.4" y2="440.0" stroke="#A5A5A5" stroke-width="1.8"/><text x="212.8" y="443.3" font-size="9" font-weight="bold" fill="#404040">Chrysophanol</text>
<line x1="284.0" y1="440.0" x2="296.2" y2="440.0" stroke="#FFC000" stroke-width="1.8"/><text x="296.6" y="443.3" font-size="9" font-weight="bold" fill="#404040">Rhein</text>
<line x1="333.7" y1="440.0" x2="345.9" y2="440.0" stroke="#4472C4" stroke-width="1.8"/><text x="346.3" y="443.3" font-size="9" font-weight="bold" fill="#404040">Papaverine</text>
<line x1="406.7" y1="440.0" x2="418.9" y2="440.0" stroke="#70AD47" stroke-width="1.8"/><text x="419.3" y="443.3" font-size="9" font-weight="bold" fill="#404040" textLength="65.2" lengthAdjust="spacingAndGlyphs">Anthraquinone</text>
</g></svg>
</body></html>
